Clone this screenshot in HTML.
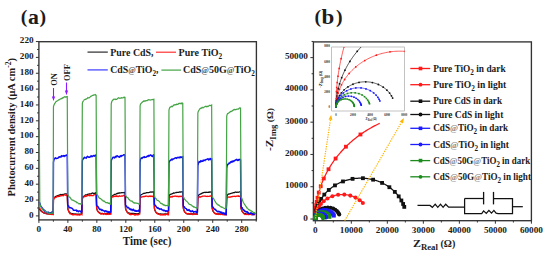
<!DOCTYPE html>
<html><head><meta charset="utf-8"><style>
html,body{margin:0;padding:0;background:#fff;}
svg{display:block;}
text{font-family:"Liberation Serif", serif;fill:#1c1c1c;}
.b{font-weight:bold;}
</style></head><body>
<svg width="550" height="259" viewBox="0 0 550 259">
<rect width="550" height="259" fill="#fff"/>
<rect x="38.9" y="41.7" width="217.5" height="178.2" fill="none" stroke="#333" stroke-width="1.35"/>
<line x1="35.9" y1="215.9" x2="38.9" y2="215.9" stroke="#333" stroke-width="1"/>
<text x="33.6" y="217.7" text-anchor="end" font-size="9.2" class="b">0</text>
<line x1="37.1" y1="207.97" x2="38.9" y2="207.97" stroke="#333" stroke-width="1"/>
<line x1="35.9" y1="200.05" x2="38.9" y2="200.05" stroke="#333" stroke-width="1"/>
<text x="33.6" y="201.85" text-anchor="end" font-size="9.2" class="b">20</text>
<line x1="37.1" y1="192.12" x2="38.9" y2="192.12" stroke="#333" stroke-width="1"/>
<line x1="35.9" y1="184.2" x2="38.9" y2="184.2" stroke="#333" stroke-width="1"/>
<text x="33.6" y="186" text-anchor="end" font-size="9.2" class="b">40</text>
<line x1="37.1" y1="176.28" x2="38.9" y2="176.28" stroke="#333" stroke-width="1"/>
<line x1="35.9" y1="168.35" x2="38.9" y2="168.35" stroke="#333" stroke-width="1"/>
<text x="33.6" y="170.15" text-anchor="end" font-size="9.2" class="b">60</text>
<line x1="37.1" y1="160.43" x2="38.9" y2="160.43" stroke="#333" stroke-width="1"/>
<line x1="35.9" y1="152.5" x2="38.9" y2="152.5" stroke="#333" stroke-width="1"/>
<text x="33.6" y="154.3" text-anchor="end" font-size="9.2" class="b">80</text>
<line x1="37.1" y1="144.57" x2="38.9" y2="144.57" stroke="#333" stroke-width="1"/>
<line x1="35.9" y1="136.65" x2="38.9" y2="136.65" stroke="#333" stroke-width="1"/>
<text x="33.6" y="138.45" text-anchor="end" font-size="9.2" class="b">100</text>
<line x1="37.1" y1="128.73" x2="38.9" y2="128.73" stroke="#333" stroke-width="1"/>
<line x1="35.9" y1="120.8" x2="38.9" y2="120.8" stroke="#333" stroke-width="1"/>
<text x="33.6" y="122.6" text-anchor="end" font-size="9.2" class="b">120</text>
<line x1="37.1" y1="112.88" x2="38.9" y2="112.88" stroke="#333" stroke-width="1"/>
<line x1="35.9" y1="104.95" x2="38.9" y2="104.95" stroke="#333" stroke-width="1"/>
<text x="33.6" y="106.75" text-anchor="end" font-size="9.2" class="b">140</text>
<line x1="37.1" y1="97.03" x2="38.9" y2="97.03" stroke="#333" stroke-width="1"/>
<line x1="35.9" y1="89.1" x2="38.9" y2="89.1" stroke="#333" stroke-width="1"/>
<text x="33.6" y="90.9" text-anchor="end" font-size="9.2" class="b">160</text>
<line x1="37.1" y1="81.18" x2="38.9" y2="81.18" stroke="#333" stroke-width="1"/>
<line x1="35.9" y1="73.25" x2="38.9" y2="73.25" stroke="#333" stroke-width="1"/>
<text x="33.6" y="75.05" text-anchor="end" font-size="9.2" class="b">180</text>
<line x1="37.1" y1="65.33" x2="38.9" y2="65.33" stroke="#333" stroke-width="1"/>
<line x1="35.9" y1="57.4" x2="38.9" y2="57.4" stroke="#333" stroke-width="1"/>
<text x="33.6" y="59.2" text-anchor="end" font-size="9.2" class="b">200</text>
<line x1="37.1" y1="49.48" x2="38.9" y2="49.48" stroke="#333" stroke-width="1"/>
<line x1="35.9" y1="41.55" x2="38.9" y2="41.55" stroke="#333" stroke-width="1"/>
<text x="33.6" y="43.35" text-anchor="end" font-size="9.2" class="b">220</text>
<line x1="38.9" y1="219.9" x2="38.9" y2="222.9" stroke="#333" stroke-width="1"/>
<text x="38.9" y="232.1" text-anchor="middle" font-size="9.2" class="b">0</text>
<line x1="53.39" y1="219.9" x2="53.39" y2="221.70000000000002" stroke="#333" stroke-width="1"/>
<line x1="67.87" y1="219.9" x2="67.87" y2="222.9" stroke="#333" stroke-width="1"/>
<text x="67.87" y="232.1" text-anchor="middle" font-size="9.2" class="b">40</text>
<line x1="82.36" y1="219.9" x2="82.36" y2="221.70000000000002" stroke="#333" stroke-width="1"/>
<line x1="96.84" y1="219.9" x2="96.84" y2="222.9" stroke="#333" stroke-width="1"/>
<text x="96.84" y="232.1" text-anchor="middle" font-size="9.2" class="b">80</text>
<line x1="111.33" y1="219.9" x2="111.33" y2="221.70000000000002" stroke="#333" stroke-width="1"/>
<line x1="125.82" y1="219.9" x2="125.82" y2="222.9" stroke="#333" stroke-width="1"/>
<text x="125.82" y="232.1" text-anchor="middle" font-size="9.2" class="b">120</text>
<line x1="140.3" y1="219.9" x2="140.3" y2="221.70000000000002" stroke="#333" stroke-width="1"/>
<line x1="154.79" y1="219.9" x2="154.79" y2="222.9" stroke="#333" stroke-width="1"/>
<text x="154.79" y="232.1" text-anchor="middle" font-size="9.2" class="b">160</text>
<line x1="169.27" y1="219.9" x2="169.27" y2="221.70000000000002" stroke="#333" stroke-width="1"/>
<line x1="183.76" y1="219.9" x2="183.76" y2="222.9" stroke="#333" stroke-width="1"/>
<text x="183.76" y="232.1" text-anchor="middle" font-size="9.2" class="b">200</text>
<line x1="198.25" y1="219.9" x2="198.25" y2="221.70000000000002" stroke="#333" stroke-width="1"/>
<line x1="212.73" y1="219.9" x2="212.73" y2="222.9" stroke="#333" stroke-width="1"/>
<text x="212.73" y="232.1" text-anchor="middle" font-size="9.2" class="b">240</text>
<line x1="227.22" y1="219.9" x2="227.22" y2="221.70000000000002" stroke="#333" stroke-width="1"/>
<line x1="241.7" y1="219.9" x2="241.7" y2="222.9" stroke="#333" stroke-width="1"/>
<text x="241.7" y="232.1" text-anchor="middle" font-size="9.2" class="b">280</text>
<line x1="256.19" y1="219.9" x2="256.19" y2="221.70000000000002" stroke="#333" stroke-width="1"/>
<path d="M39.3,208.71 L39.81,209.48 L40.33,210.09 L40.84,210.77 L41.36,211.33 L41.87,211.64 L42.39,212.1 L42.9,212.42 L43.42,212.55 L43.93,213.02 L44.45,213.09 L44.96,213.15 L45.48,213.21 L45.99,213.5 L46.51,213.8 L47.02,213.97 L47.54,213.95 L48.05,213.9 L48.57,213.79 L49.08,214 L49.6,214.1 L50.11,214.09 L50.63,214.21 L51.14,214.21 L51.66,214.42 L52.17,214.46 L52.69,214.31 L53.2,214.48 L53.45,200.08 L53.84,198.29 L54.24,197.77 L54.63,197.34 L55.03,196.91 L55.42,196.84 L55.82,196.41 L56.21,196.28 L56.6,196.28 L57,195.9 L57.39,195.62 L57.79,195.56 L58.18,195.44 L58.58,195.36 L58.97,195.34 L59.36,195.03 L59.76,194.86 L60.15,194.72 L60.55,194.51 L60.94,194.68 L61.34,194.72 L61.73,194.69 L62.12,194.37 L62.52,194.49 L62.91,194.5 L63.31,194.38 L63.7,194.4 L64.1,194.28 L64.49,194.11 L64.88,193.94 L65.28,193.88 L65.67,193.76 L66.07,193.79 L66.46,193.97 L66.86,194.05 L67.25,194.14 L67.75,208.53 L68.14,209.7 L68.53,210.74 L68.92,211.48 L69.31,212.2 L69.71,212.62 L70.1,212.84 L70.49,213.18 L70.88,213.56 L71.27,213.52 L71.66,213.79 L72.05,213.62 L72.44,213.63 L72.83,213.64 L73.23,213.86 L73.62,214.08 L74.01,214.13 L74.4,214 L74.79,214.15 L75.18,214.02 L75.57,213.91 L75.96,214.11 L76.35,214.12 L76.75,214.15 L77.14,214.16 L77.53,214.29 L77.92,214.17 L78.31,214.24 L78.7,214.23 L79.09,214.28 L79.48,214.15 L79.87,214.18 L80.27,214.14 L80.66,214.01 L81.05,213.9 L81.44,213.99 L81.83,213.83 L82.33,199.42 L82.72,197.41 L83.12,196.75 L83.51,196.34 L83.91,196.31 L84.3,195.97 L84.7,195.58 L85.09,195.22 L85.48,194.94 L85.88,194.95 L86.27,194.87 L86.67,194.79 L87.06,194.7 L87.46,194.33 L87.85,194.27 L88.24,194.1 L88.64,194.14 L89.03,194.12 L89.43,194.11 L89.82,193.75 L90.22,193.82 L90.61,193.86 L91,193.87 L91.4,193.52 L91.79,193.33 L92.19,193.16 L92.58,193.01 L92.98,193.23 L93.37,193.33 L93.76,193.31 L94.16,193.36 L94.55,193.3 L94.95,193.12 L95.34,192.93 L95.74,192.8 L96.13,192.98 L96.63,208.14 L97.02,209.39 L97.41,210.38 L97.8,210.98 L98.19,211.55 L98.59,211.99 L98.98,212.5 L99.37,212.72 L99.76,212.88 L100.15,213.26 L100.54,213.33 L100.93,213.52 L101.32,213.56 L101.71,213.36 L102.11,213.4 L102.5,213.44 L102.89,213.61 L103.28,213.54 L103.67,213.64 L104.06,213.64 L104.45,213.51 L104.84,213.7 L105.23,213.5 L105.63,213.67 L106.02,213.52 L106.41,213.36 L106.8,213.34 L107.19,213.55 L107.58,213.77 L107.97,213.51 L108.36,213.55 L108.75,213.57 L109.15,213.71 L109.54,213.55 L109.93,213.57 L110.32,213.53 L110.71,213.7 L111.21,198.52 L111.6,196.89 L112,196.26 L112.39,195.8 L112.79,195.62 L113.18,195.34 L113.58,194.93 L113.97,194.81 L114.36,194.44 L114.76,194.44 L115.15,194.33 L115.55,194.25 L115.94,194.09 L116.34,193.83 L116.73,193.65 L117.12,193.5 L117.52,193.57 L117.91,193.25 L118.31,193.35 L118.7,193.04 L119.1,192.9 L119.49,192.81 L119.88,192.99 L120.28,192.92 L120.67,192.81 L121.07,192.93 L121.46,192.72 L121.86,192.68 L122.25,192.66 L122.64,192.73 L123.04,192.76 L123.43,192.73 L123.83,192.58 L124.22,192.47 L124.62,192.33 L125.01,192.51 L125.51,208.37 L125.9,209.69 L126.29,210.47 L126.68,211.19 L127.07,211.88 L127.47,212.31 L127.86,212.46 L128.25,212.73 L128.64,213.11 L129.03,213.11 L129.42,213.11 L129.81,213.17 L130.2,213.39 L130.59,213.58 L130.99,213.43 L131.38,213.35 L131.77,213.34 L132.16,213.37 L132.55,213.47 L132.94,213.39 L133.33,213.4 L133.72,213.36 L134.11,213.65 L134.51,213.73 L134.9,213.52 L135.29,213.74 L135.68,213.53 L136.07,213.52 L136.46,213.75 L136.85,213.81 L137.24,213.83 L137.63,213.72 L138.03,213.56 L138.42,213.63 L138.81,213.47 L139.2,213.41 L139.59,213.45 L140.09,196.86 L140.48,195.18 L140.88,194.96 L141.27,194.77 L141.67,194.49 L142.06,194.31 L142.46,194.05 L142.85,193.71 L143.24,193.63 L143.64,193.44 L144.03,193.42 L144.43,193.42 L144.82,193.19 L145.22,193.07 L145.61,193.04 L146,192.85 L146.4,192.63 L146.79,192.67 L147.19,192.73 L147.58,192.7 L147.98,192.63 L148.37,192.63 L148.76,192.54 L149.16,192.46 L149.55,192.32 L149.95,192.16 L150.34,192.19 L150.74,191.97 L151.13,191.96 L151.52,192.09 L151.92,192.14 L152.31,192.12 L152.71,191.95 L153.1,191.91 L153.5,191.89 L153.89,191.94 L154.39,208.32 L154.78,209.74 L155.17,210.92 L155.56,211.49 L155.95,212.15 L156.35,212.69 L156.74,212.93 L157.13,213.18 L157.52,213.56 L157.91,213.45 L158.3,213.61 L158.69,213.57 L159.08,213.81 L159.47,214.03 L159.87,214 L160.26,213.83 L160.65,213.91 L161.04,213.96 L161.43,214.06 L161.82,214.04 L162.21,214.08 L162.6,214.18 L162.99,214.12 L163.39,214.04 L163.78,214.2 L164.17,214.01 L164.56,214.08 L164.95,214.01 L165.34,214.12 L165.73,213.92 L166.12,214.15 L166.51,214.04 L166.91,213.85 L167.3,213.82 L167.69,213.86 L168.08,213.73 L168.47,213.81 L168.97,196.99 L169.36,195.38 L169.76,194.91 L170.15,194.56 L170.55,194.26 L170.94,194.21 L171.34,194.19 L171.73,193.94 L172.12,193.61 L172.52,193.6 L172.91,193.37 L173.31,193.12 L173.7,192.89 L174.1,192.97 L174.49,193 L174.88,192.91 L175.28,192.76 L175.67,192.68 L176.07,192.48 L176.46,192.62 L176.86,192.45 L177.25,192.44 L177.64,192.48 L178.04,192.49 L178.43,192.34 L178.83,192.17 L179.22,192.16 L179.62,191.97 L180.01,192.13 L180.4,192.02 L180.8,192.15 L181.19,191.98 L181.59,191.92 L181.98,191.82 L182.38,191.83 L182.77,191.73 L183.27,208.03 L183.66,209.59 L184.05,210.56 L184.44,211.3 L184.83,211.89 L185.23,212.42 L185.62,212.79 L186.01,213.15 L186.4,213.42 L186.79,213.49 L187.18,213.79 L187.57,213.96 L187.96,213.76 L188.35,213.95 L188.75,214.11 L189.14,214.16 L189.53,213.94 L189.92,214.09 L190.31,214.1 L190.7,213.87 L191.09,213.72 L191.48,214.02 L191.87,214.07 L192.27,213.95 L192.66,213.81 L193.05,213.75 L193.44,213.75 L193.83,213.96 L194.22,213.92 L194.61,213.82 L195,214.06 L195.39,214.16 L195.79,213.97 L196.18,214.14 L196.57,214.13 L196.96,214.2 L197.35,214.19 L197.85,197.41 L198.24,195.67 L198.64,195.27 L199.03,194.75 L199.43,194.56 L199.82,194.31 L200.22,194.17 L200.61,193.9 L201,193.85 L201.4,193.64 L201.79,193.34 L202.19,193.11 L202.58,192.89 L202.98,192.86 L203.37,192.63 L203.76,192.62 L204.16,192.46 L204.55,192.47 L204.95,192.46 L205.34,192.44 L205.74,192.54 L206.13,192.24 L206.52,192.37 L206.92,192.29 L207.31,192.26 L207.71,192.27 L208.1,192.33 L208.5,192.17 L208.89,192.08 L209.28,192.24 L209.68,191.97 L210.07,192.02 L210.47,192.04 L210.86,191.81 L211.26,191.89 L211.65,191.97 L212.15,208.55 L212.54,209.74 L212.93,210.93 L213.32,211.63 L213.71,212.16 L214.11,212.75 L214.5,212.83 L214.89,213.2 L215.28,213.44 L215.67,213.5 L216.06,213.77 L216.45,213.75 L216.84,213.8 L217.23,213.86 L217.63,214 L218.02,213.87 L218.41,213.88 L218.8,213.89 L219.19,213.95 L219.58,214.1 L219.97,213.98 L220.36,214.12 L220.75,214.03 L221.15,214.02 L221.54,213.93 L221.93,213.96 L222.32,214.17 L222.71,214.17 L223.1,214.22 L223.49,214.07 L223.88,213.97 L224.27,213.91 L224.67,213.98 L225.06,214.05 L225.45,214.15 L225.84,213.91 L226.23,214.04 L226.73,197.32 L227.12,195.52 L227.52,194.87 L227.91,194.55 L228.31,194.17 L228.7,193.93 L229.1,194.01 L229.49,193.87 L229.88,193.75 L230.28,193.67 L230.67,193.62 L231.07,193.43 L231.46,193.27 L231.86,193.14 L232.25,193.05 L232.64,192.93 L233.04,192.86 L233.43,192.6 L233.83,192.6 L234.22,192.5 L234.62,192.54 L235.01,192.27 L235.4,192.13 L235.8,191.97 L236.19,192.15 L236.59,192.31 L236.98,192.28 L237.38,192.14 L237.77,192.23 L238.16,192.25 L238.56,192.17 L238.95,191.99 L239.35,191.89 L239.74,191.87 L240.14,191.82 L240.53,191.82 L241.03,208.34 L241.43,209.87 L241.82,210.65 L242.22,211.49 L242.61,211.91 L243.01,212.29 L243.4,212.87 L243.8,213.18 L244.19,213.54 L244.59,213.61 L244.98,213.5 L245.38,213.6 L245.77,213.75 L246.17,214 L246.56,214.17 L246.96,214.08 L247.35,214 L247.75,213.83 L248.14,213.95 L248.54,213.86 L248.93,213.77 L249.33,213.67 L249.72,213.61 L250.12,213.84 L250.51,213.76 L250.91,214.04 L251.3,213.87 L251.69,214.07 L252.09,213.9 L252.49,213.75 L252.88,213.94 L253.28,213.87 L253.67,214.02 L254.06,213.89 L254.46,213.76 L254.85,213.97 L255.25,214.07" fill="none" stroke="#111" stroke-width="1.25"/>
<path d="M39.3,207.53 L39.81,208.6 L40.33,209.05 L40.84,209.92 L41.36,210.7 L41.87,211.16 L42.39,211.92 L42.9,212.02 L43.42,212.69 L43.93,213.01 L44.45,212.78 L44.96,212.72 L45.48,213.19 L45.99,213.64 L46.51,213.44 L47.02,213.52 L47.54,213.89 L48.05,213.75 L48.57,214.17 L49.08,214.19 L49.6,213.92 L50.11,213.99 L50.63,214.19 L51.14,214.22 L51.66,214.42 L52.17,214.18 L52.69,214.49 L53.2,214.39 L53.45,200.23 L53.84,198.55 L54.24,198.02 L54.63,197.66 L55.03,197.64 L55.42,197.67 L55.82,197.51 L56.21,197.19 L56.6,196.75 L57,196.27 L57.39,196.58 L57.79,196.52 L58.18,196.54 L58.58,196.16 L58.97,196.09 L59.36,196.28 L59.76,196.26 L60.15,196.06 L60.55,195.71 L60.94,195.56 L61.34,195.77 L61.73,195.52 L62.12,195.57 L62.52,195.52 L62.91,195.68 L63.31,195.71 L63.7,195.34 L64.1,194.91 L64.49,194.83 L64.88,194.88 L65.28,195.02 L65.67,195.25 L66.07,195.43 L66.46,194.95 L66.86,195.2 L67.25,195.33 L67.75,208.25 L68.14,209.75 L68.53,210.72 L68.92,211.91 L69.31,212.74 L69.71,213.28 L70.1,213.85 L70.49,213.87 L70.88,213.75 L71.27,214.05 L71.66,214.43 L72.05,214.26 L72.44,214.56 L72.83,214.89 L73.23,214.6 L73.62,214.7 L74.01,214.81 L74.4,214.74 L74.79,214.52 L75.18,214.42 L75.57,214.71 L75.96,214.92 L76.35,214.81 L76.75,214.48 L77.14,214.79 L77.53,214.95 L77.92,214.67 L78.31,214.75 L78.7,215.02 L79.09,215.17 L79.48,215.01 L79.87,214.88 L80.27,214.88 L80.66,214.6 L81.05,214.43 L81.44,214.33 L81.83,214.63 L82.33,199.21 L82.72,197.64 L83.12,197.24 L83.51,197.07 L83.91,196.66 L84.3,196.28 L84.7,196.67 L85.09,196.41 L85.48,196.03 L85.88,196.12 L86.27,196.25 L86.67,195.85 L87.06,195.88 L87.46,195.7 L87.85,195.68 L88.24,195.3 L88.64,195.05 L89.03,195.56 L89.43,195.75 L89.82,195.59 L90.22,195.53 L90.61,195.26 L91,195.45 L91.4,195.3 L91.79,195.57 L92.19,195.59 L92.58,195.63 L92.98,195.75 L93.37,195.31 L93.76,194.9 L94.16,194.75 L94.55,194.64 L94.95,194.51 L95.34,194.39 L95.74,194.68 L96.13,195.06 L96.63,207.68 L97.02,209.49 L97.41,210.8 L97.8,211.17 L98.19,211.92 L98.59,212.33 L98.98,212.47 L99.37,213.2 L99.76,213.2 L100.15,213.45 L100.54,213.68 L100.93,214.06 L101.32,214.11 L101.71,213.95 L102.11,213.91 L102.5,213.69 L102.89,214.13 L103.28,214.41 L103.67,214.05 L104.06,213.7 L104.45,213.65 L104.84,213.69 L105.23,214.1 L105.63,214.34 L106.02,214.44 L106.41,213.95 L106.8,214.18 L107.19,214.26 L107.58,214.26 L107.97,214.5 L108.36,213.99 L108.75,213.75 L109.15,214.03 L109.54,214.33 L109.93,214.33 L110.32,214.06 L110.71,214.11 L111.21,199.6 L111.6,197.62 L112,197.26 L112.39,197.02 L112.79,196.74 L113.18,196.78 L113.58,196.55 L113.97,196.42 L114.36,196.24 L114.76,196.48 L115.15,196.13 L115.55,196.39 L115.94,196.16 L116.34,195.89 L116.73,196.33 L117.12,196.08 L117.52,196.41 L117.91,196.55 L118.31,196.64 L118.7,196.15 L119.1,196.06 L119.49,195.75 L119.88,196.14 L120.28,196.3 L120.67,196.24 L121.07,196.08 L121.46,195.89 L121.86,196.11 L122.25,195.99 L122.64,196.03 L123.04,195.7 L123.43,195.55 L123.83,195.35 L124.22,195.68 L124.62,195.76 L125.01,195.52 L125.51,207.86 L125.9,209.27 L126.29,210.48 L126.68,211.22 L127.07,211.91 L127.47,212.83 L127.86,213.12 L128.25,213.25 L128.64,213.6 L129.03,213.73 L129.42,214.25 L129.81,214.03 L130.2,214.52 L130.59,214.19 L130.99,214.58 L131.38,214.67 L131.77,214.41 L132.16,214.44 L132.55,214.33 L132.94,214.25 L133.33,214.16 L133.72,214.22 L134.11,214.7 L134.51,214.99 L134.9,215.12 L135.29,214.61 L135.68,214.45 L136.07,214.77 L136.46,214.38 L136.85,214.61 L137.24,214.45 L137.63,214.83 L138.03,214.39 L138.42,214.67 L138.81,214.52 L139.2,214.29 L139.59,214.05 L140.09,198.89 L140.48,197.4 L140.88,196.96 L141.27,196.92 L141.67,197.2 L142.06,196.86 L142.46,196.88 L142.85,196.56 L143.24,196.39 L143.64,196.68 L144.03,196.79 L144.43,196.48 L144.82,196.2 L145.22,196.03 L145.61,196.28 L146,196.34 L146.4,196.21 L146.79,196.07 L147.19,196.27 L147.58,196.45 L147.98,196.62 L148.37,196.55 L148.76,196.24 L149.16,195.96 L149.55,196.25 L149.95,196.19 L150.34,196.37 L150.74,196.01 L151.13,196.31 L151.52,196.16 L151.92,196.42 L152.31,196.59 L152.71,196.43 L153.1,196 L153.5,196.36 L153.89,196.28 L154.39,208.1 L154.78,209.45 L155.17,210.48 L155.56,211.75 L155.95,212.34 L156.35,212.67 L156.74,213.11 L157.13,213.6 L157.52,213.53 L157.91,213.89 L158.3,214.09 L158.69,214.28 L159.08,214.13 L159.47,214.48 L159.87,214.76 L160.26,214.98 L160.65,214.73 L161.04,214.86 L161.43,214.71 L161.82,214.88 L162.21,214.51 L162.6,214.85 L162.99,215.11 L163.39,214.95 L163.78,214.87 L164.17,214.83 L164.56,214.81 L164.95,214.44 L165.34,214.88 L165.73,214.63 L166.12,214.44 L166.51,214.28 L166.91,214.28 L167.3,214.68 L167.69,214.37 L168.08,214.23 L168.47,214.57 L168.97,198.66 L169.36,196.91 L169.76,196.96 L170.15,197.01 L170.55,196.98 L170.94,197.07 L171.34,196.67 L171.73,196.95 L172.12,197 L172.52,196.53 L172.91,196.29 L173.31,196.39 L173.7,196.45 L174.1,196.31 L174.49,196.11 L174.88,196.17 L175.28,196.01 L175.67,196.23 L176.07,196.53 L176.46,196.21 L176.86,196.31 L177.25,196.48 L177.64,196.18 L178.04,196.45 L178.43,196.68 L178.83,196.44 L179.22,196.31 L179.62,196.52 L180.01,196.42 L180.4,196.27 L180.8,196.56 L181.19,196.61 L181.59,196.34 L181.98,196.1 L182.38,196.02 L182.77,196.04 L183.27,207.93 L183.66,209.54 L184.05,210.83 L184.44,211.72 L184.83,212.42 L185.23,212.39 L185.62,212.78 L186.01,213.39 L186.4,213.79 L186.79,213.58 L187.18,213.61 L187.57,213.79 L187.96,213.73 L188.35,213.83 L188.75,213.57 L189.14,213.68 L189.53,213.8 L189.92,213.53 L190.31,213.46 L190.7,214 L191.09,214.19 L191.48,214.42 L191.87,214.35 L192.27,214.43 L192.66,214.53 L193.05,214.59 L193.44,214.03 L193.83,214.12 L194.22,213.91 L194.61,214.08 L195,213.89 L195.39,213.97 L195.79,214.28 L196.18,214.26 L196.57,213.99 L196.96,214.01 L197.35,213.97 L197.85,199.26 L198.24,197.45 L198.64,197.08 L199.03,197.13 L199.43,196.77 L199.82,196.87 L200.22,197.15 L200.61,196.99 L201,196.7 L201.4,196.65 L201.79,196.65 L202.19,196.37 L202.58,196.17 L202.98,196.04 L203.37,196.06 L203.76,196.15 L204.16,196.1 L204.55,196.04 L204.95,195.88 L205.34,196.1 L205.74,196.43 L206.13,196.46 L206.52,196.44 L206.92,196.49 L207.31,196.19 L207.71,196.37 L208.1,196.29 L208.5,196.31 L208.89,196.36 L209.28,196.28 L209.68,196.12 L210.07,195.98 L210.47,195.87 L210.86,196.01 L211.26,196 L211.65,196.14 L212.15,207.37 L212.54,208.99 L212.93,210.58 L213.32,211.29 L213.71,212.09 L214.11,212.64 L214.5,212.92 L214.89,213.64 L215.28,213.64 L215.67,214.01 L216.06,213.83 L216.45,213.69 L216.84,214.18 L217.23,214.19 L217.63,213.94 L218.02,214.02 L218.41,214.12 L218.8,214.38 L219.19,214.11 L219.58,214.03 L219.97,214.5 L220.36,214.62 L220.75,214.29 L221.15,214.22 L221.54,214.19 L221.93,214.4 L222.32,214.48 L222.71,214.7 L223.1,214.81 L223.49,214.66 L223.88,214.73 L224.27,214.77 L224.67,214.81 L225.06,214.63 L225.45,214.74 L225.84,214.75 L226.23,214.91 L226.73,199.01 L227.12,197.71 L227.52,197.02 L227.91,197.18 L228.31,197.13 L228.7,197.01 L229.1,197.24 L229.49,197.09 L229.88,196.87 L230.28,196.97 L230.67,197.08 L231.07,196.95 L231.46,196.69 L231.86,196.58 L232.25,196.5 L232.64,196.63 L233.04,196.4 L233.43,196.32 L233.83,196.37 L234.22,196.28 L234.62,196.18 L235.01,196.43 L235.4,196.62 L235.8,196.49 L236.19,196.36 L236.59,196.1 L236.98,196.02 L237.38,195.86 L237.77,196.06 L238.16,196.19 L238.56,195.91 L238.95,196.32 L239.35,196.15 L239.74,196.41 L240.14,196.56 L240.53,196.73 L241.03,207.86 L241.43,209.35 L241.82,210.84 L242.22,211.3 L242.61,211.75 L243.01,212.5 L243.4,212.98 L243.8,213.64 L244.19,213.98 L244.59,214.06 L244.98,214.45 L245.38,214.38 L245.77,214.35 L246.17,214.46 L246.56,214.33 L246.96,214.24 L247.35,214.35 L247.75,214.26 L248.14,214.62 L248.54,214.65 L248.93,214.57 L249.33,214.22 L249.72,214.2 L250.12,214.21 L250.51,214.33 L250.91,214.41 L251.3,214.68 L251.69,214.89 L252.09,214.69 L252.49,214.53 L252.88,214.57 L253.28,214.85 L253.67,214.57 L254.06,214.52 L254.46,214.7 L254.85,214.35 L255.25,214.25" fill="none" stroke="#ff0a0a" stroke-width="1.3"/>
<path d="M39.3,202.01 L39.81,203.14 L40.33,204.75 L40.84,206 L41.36,206.87 L41.87,207.47 L42.39,208.26 L42.9,208.89 L43.42,210 L43.93,209.88 L44.45,210.76 L44.96,211.48 L45.48,211.21 L45.99,212.01 L46.51,212.32 L47.02,212.77 L47.54,212.41 L48.05,212.33 L48.57,212.34 L49.08,213.05 L49.6,213.05 L50.11,212.82 L50.63,212.78 L51.14,212.6 L51.66,212.26 L52.17,212.12 L52.69,212.86 L53.2,212.71 L53.45,162.44 L53.84,160.26 L54.24,159.08 L54.63,158.68 L55.03,158.06 L55.42,157.86 L55.82,158.33 L56.21,158.49 L56.6,158.46 L57,158.19 L57.39,158.29 L57.79,158.34 L58.18,157.89 L58.58,157.77 L58.97,156.91 L59.36,157.11 L59.76,156.88 L60.15,157.04 L60.55,156.98 L60.94,156.51 L61.34,155.94 L61.73,156.53 L62.12,155.97 L62.52,155.98 L62.91,155.82 L63.31,155.64 L63.7,155.99 L64.1,156.44 L64.49,155.89 L64.88,155.98 L65.28,155.61 L65.67,155.65 L66.07,155.47 L66.46,155.09 L66.86,154.84 L67.25,154.72 L67.75,205.28 L68.14,205.77 L68.53,205.92 L68.92,206.92 L69.31,207.76 L69.71,207.79 L70.1,207.59 L70.49,207.64 L70.88,207.66 L71.27,208.05 L71.66,208.09 L72.05,208.36 L72.44,208.62 L72.83,209.19 L73.23,209.95 L73.62,210.31 L74.01,210.21 L74.4,210.2 L74.79,210.37 L75.18,210.35 L75.57,210.34 L75.96,210.07 L76.35,210.18 L76.75,211.03 L77.14,210.65 L77.53,210.86 L77.92,211.16 L78.31,211.61 L78.7,211.2 L79.09,211.03 L79.48,210.92 L79.87,211.04 L80.27,211.18 L80.66,211.84 L81.05,212.13 L81.44,212.35 L81.83,211.55 L82.33,160.8 L82.72,159.52 L83.12,159.1 L83.51,158.42 L83.91,158.15 L84.3,157.32 L84.7,157.23 L85.09,157.73 L85.48,157.89 L85.88,157.99 L86.27,158.14 L86.67,157.41 L87.06,156.79 L87.46,156.43 L87.85,156.6 L88.24,156.85 L88.64,157.25 L89.03,157.23 L89.43,157.11 L89.82,157.15 L90.22,156.81 L90.61,156.68 L91,156.03 L91.4,156.43 L91.79,156.05 L92.19,156.55 L92.58,156.54 L92.98,156.13 L93.37,155.68 L93.76,155.53 L94.16,155.84 L94.55,156.09 L94.95,155.57 L95.34,155.2 L95.74,155.47 L96.13,155.68 L96.63,205.45 L97.02,205.74 L97.41,206.5 L97.8,206.46 L98.19,206.91 L98.59,207.48 L98.98,208.49 L99.37,208.87 L99.76,209.47 L100.15,209.47 L100.54,209.3 L100.93,209.3 L101.32,210.16 L101.71,210.47 L102.11,210.28 L102.5,209.92 L102.89,210.28 L103.28,210.74 L103.67,210.79 L104.06,210.69 L104.45,211.12 L104.84,211.7 L105.23,211.31 L105.63,210.9 L106.02,211.02 L106.41,211.21 L106.8,211.64 L107.19,211.39 L107.58,211.92 L107.97,212.2 L108.36,212.13 L108.75,211.77 L109.15,212.42 L109.54,212.09 L109.93,212.47 L110.32,212.07 L110.71,211.83 L111.21,161.43 L111.6,159.43 L112,159.08 L112.39,158.4 L112.79,157.66 L113.18,157.23 L113.58,157.15 L113.97,157.34 L114.36,157.73 L114.76,157.04 L115.15,156.86 L115.55,156.52 L115.94,157.12 L116.34,156.53 L116.73,156.05 L117.12,155.73 L117.52,155.88 L117.91,156.5 L118.31,156.82 L118.7,156.82 L119.1,157.09 L119.49,157.15 L119.88,156.5 L120.28,155.93 L120.67,156.39 L121.07,156.43 L121.46,155.65 L121.86,155.86 L122.25,155.65 L122.64,155.49 L123.04,155.34 L123.43,155.05 L123.83,154.67 L124.22,154.74 L124.62,154.84 L125.01,155.55 L125.51,204.89 L125.9,206.01 L126.29,206.01 L126.68,206.31 L127.07,207.14 L127.47,207.76 L127.86,207.81 L128.25,207.53 L128.64,207.92 L129.03,208.14 L129.42,208.95 L129.81,208.72 L130.2,208.84 L130.59,209.57 L130.99,209.11 L131.38,209.31 L131.77,209.92 L132.16,210.29 L132.55,209.76 L132.94,209.47 L133.33,209.37 L133.72,210.29 L134.11,210.14 L134.51,210.63 L134.9,211.11 L135.29,210.81 L135.68,210.58 L136.07,211.22 L136.46,211.25 L136.85,210.9 L137.24,211.21 L137.63,210.97 L138.03,210.79 L138.42,210.4 L138.81,211.01 L139.2,211.56 L139.59,211.6 L140.09,162.07 L140.48,159.51 L140.88,158.33 L141.27,157.94 L141.67,158.22 L142.06,158.37 L142.46,157.8 L142.85,157.27 L143.24,157.12 L143.64,157.06 L144.03,157.46 L144.43,156.85 L144.82,157.13 L145.22,157.19 L145.61,157.29 L146,157.26 L146.4,157.03 L146.79,156.56 L147.19,156.24 L147.58,156.06 L147.98,156.4 L148.37,155.8 L148.76,155.54 L149.16,155.98 L149.55,155.66 L149.95,155.24 L150.34,154.94 L150.74,155.31 L151.13,155.26 L151.52,155.93 L151.92,156.21 L152.31,156.47 L152.71,155.81 L153.1,155.21 L153.5,154.84 L153.89,155.04 L154.39,204.47 L154.78,204.93 L155.17,205.13 L155.56,205.62 L155.95,206.27 L156.35,206.86 L156.74,207.42 L157.13,207.97 L157.52,208.21 L157.91,207.86 L158.3,208.52 L158.69,208.41 L159.08,208.72 L159.47,208.76 L159.87,209.26 L160.26,209.02 L160.65,208.99 L161.04,209.02 L161.43,208.99 L161.82,209.82 L162.21,210.02 L162.6,209.91 L162.99,209.95 L163.39,210.66 L163.78,210.59 L164.17,210.27 L164.56,210.74 L164.95,210.88 L165.34,211.35 L165.73,210.68 L166.12,210.71 L166.51,211.12 L166.91,211.41 L167.3,211.68 L167.69,210.89 L168.08,210.71 L168.47,210.43 L168.97,162.66 L169.36,161.7 L169.76,160.83 L170.15,160.72 L170.55,160.04 L170.94,160.16 L171.34,159.73 L171.73,159.24 L172.12,159.47 L172.52,159.76 L172.91,158.97 L173.31,159 L173.7,159.01 L174.1,158.54 L174.49,158.39 L174.88,158.02 L175.28,157.84 L175.67,157.75 L176.07,158.05 L176.46,158.26 L176.86,157.87 L177.25,157.4 L177.64,157.44 L178.04,157.82 L178.43,157.49 L178.83,157.41 L179.22,157.22 L179.62,157.73 L180.01,157.75 L180.4,157.21 L180.8,156.9 L181.19,157.03 L181.59,157.26 L181.98,157.47 L182.38,156.98 L182.77,156.76 L183.27,205.86 L183.66,206.31 L184.05,206.61 L184.44,206.96 L184.83,208.01 L185.23,208.07 L185.62,208.49 L186.01,208.63 L186.4,208.87 L186.79,209.61 L187.18,210.28 L187.57,210.06 L187.96,209.82 L188.35,210.33 L188.75,210.12 L189.14,209.84 L189.53,210.71 L189.92,210.75 L190.31,211.26 L190.7,211.16 L191.09,211.65 L191.48,211.53 L191.87,211.16 L192.27,210.8 L192.66,211.21 L193.05,211.58 L193.44,212.12 L193.83,211.57 L194.22,211.84 L194.61,211.75 L195,211.86 L195.39,211.55 L195.79,211.53 L196.18,211.8 L196.57,212.41 L196.96,211.9 L197.35,212.02 L197.85,165.56 L198.24,164.2 L198.64,162.67 L199.03,161.7 L199.43,162.01 L199.82,162.21 L200.22,161.74 L200.61,160.95 L201,161.39 L201.4,161.02 L201.79,161.32 L202.19,161.15 L202.58,161.23 L202.98,160.51 L203.37,160.73 L203.76,160.21 L204.16,160.06 L204.55,160.42 L204.95,160.59 L205.34,159.95 L205.74,159.57 L206.13,159.52 L206.52,159.58 L206.92,159.45 L207.31,159.06 L207.71,158.93 L208.1,159.36 L208.5,159.78 L208.89,159.07 L209.28,159.19 L209.68,159.46 L210.07,158.81 L210.47,159.28 L210.86,158.75 L211.26,158.94 L211.65,158.98 L212.15,206.25 L212.54,206.59 L212.93,207.11 L213.32,207.79 L213.71,208.19 L214.11,208.84 L214.5,209.15 L214.89,209.45 L215.28,209.3 L215.67,209.99 L216.06,210.36 L216.45,210.4 L216.84,211.1 L217.23,211.62 L217.63,211.66 L218.02,211.44 L218.41,211.71 L218.8,211.52 L219.19,211.5 L219.58,211.86 L219.97,211.76 L220.36,212.13 L220.75,212.47 L221.15,212.2 L221.54,212.72 L221.93,212.46 L222.32,213.05 L222.71,213.49 L223.1,213.48 L223.49,213 L223.88,213.22 L224.27,213.24 L224.67,213.91 L225.06,213.42 L225.45,213.95 L225.84,214.43 L226.23,214.44 L226.73,168.05 L227.12,165.57 L227.52,165.04 L227.91,164.19 L228.31,164.15 L228.7,164.03 L229.1,163.07 L229.49,163.11 L229.88,163.23 L230.28,162.28 L230.67,161.97 L231.07,162.16 L231.46,161.56 L231.86,161.96 L232.25,161.45 L232.64,161.69 L233.04,161.04 L233.43,161 L233.83,161.38 L234.22,160.79 L234.62,160.44 L235.01,160.46 L235.4,160.22 L235.8,159.73 L236.19,159.55 L236.59,159.38 L236.98,160.1 L237.38,160.21 L237.77,160.48 L238.16,159.81 L238.56,160.05 L238.95,159.43 L239.35,159.48 L239.74,159.6 L240.14,159.34 L240.53,159.72 L241.03,206.41 L241.43,207.05 L241.82,207.98 L242.22,207.88 L242.61,208.98 L243.01,209.41 L243.4,209.57 L243.8,210.25 L244.19,210.21 L244.59,211.11 L244.98,211.3 L245.38,211.29 L245.77,211.83 L246.17,211.88 L246.56,211.71 L246.96,212.31 L247.35,211.97 L247.75,212.69 L248.14,212.56 L248.54,212.96 L248.93,213.63 L249.33,213.65 L249.72,213.79 L250.12,213.52 L250.51,213.06 L250.91,212.86 L251.3,212.9 L251.69,213.46 L252.09,213.63 L252.49,213.84 L252.88,214.42 L253.28,213.94 L253.67,213.79 L254.06,214.18 L254.46,213.74 L254.85,213.47 L255.25,213.71" fill="none" stroke="#0a0af5" stroke-width="1.45"/>
<path d="M39.3,130.34 L39.81,204.09 L40.33,205.86 L40.84,206.62 L41.36,207.71 L41.87,208.47 L42.39,208.89 L42.9,209.68 L43.42,209.93 L43.93,210.52 L44.45,210.7 L44.96,210.93 L45.48,211.41 L45.99,212.1 L46.51,212.01 L47.02,212.09 L47.54,212.51 L48.05,213.06 L48.57,213.13 L49.08,213.05 L49.6,213.5 L50.11,213.04 L50.63,213.44 L51.14,213.24 L51.66,213.02 L52.17,212.87 L52.69,212.95 L53.2,213.41 L53.45,106.85 L53.84,105.29 L54.24,104.47 L54.63,103.69 L55.03,103.24 L55.42,102.44 L55.82,101.81 L56.21,101.41 L56.6,101.42 L57,101.1 L57.39,100.69 L57.79,100.55 L58.18,100.25 L58.58,99.84 L58.97,99.89 L59.36,99.75 L59.76,99.22 L60.15,99.08 L60.55,98.87 L60.94,98.95 L61.34,98.81 L61.73,98.3 L62.12,98.49 L62.52,97.85 L62.91,97.64 L63.31,97.74 L63.7,97.25 L64.1,97.18 L64.49,96.73 L64.88,96.92 L65.28,97.07 L65.67,96.96 L66.07,97.1 L66.46,96.7 L66.86,96.73 L67.25,96.63 L67.75,194.44 L68.14,194.98 L68.53,195.83 L68.92,196.63 L69.31,196.93 L69.71,197.45 L70.1,197.45 L70.49,198.13 L70.88,198.64 L71.27,199.38 L71.66,199.82 L72.05,199.78 L72.44,199.96 L72.83,200.41 L73.23,200.27 L73.62,200.63 L74.01,200.72 L74.4,200.81 L74.79,200.91 L75.18,201.62 L75.57,201.6 L75.96,201.76 L76.35,202.04 L76.75,202.65 L77.14,202.44 L77.53,202.67 L77.92,202.94 L78.31,203.42 L78.7,203.7 L79.09,203.95 L79.48,203.67 L79.87,203.65 L80.27,203.63 L80.66,204.08 L81.05,204.43 L81.44,204.03 L81.83,203.84 L82.33,103.59 L82.72,101.9 L83.12,101.21 L83.51,100.84 L83.91,100.27 L84.3,99.62 L84.7,99.45 L85.09,99.2 L85.48,99.1 L85.88,99.26 L86.27,99.05 L86.67,98.69 L87.06,98.47 L87.46,98.31 L87.85,97.64 L88.24,97.84 L88.64,97.8 L89.03,97.78 L89.43,97.65 L89.82,97.18 L90.22,96.86 L90.61,96.37 L91,96.45 L91.4,95.99 L91.79,95.68 L92.19,95.56 L92.58,95.41 L92.98,95.42 L93.37,95.16 L93.76,94.93 L94.16,94.88 L94.55,94.77 L94.95,94.89 L95.34,94.66 L95.74,95.18 L96.13,95.25 L96.63,193.96 L97.02,194.49 L97.41,195.09 L97.8,195.67 L98.19,196.01 L98.59,196.97 L98.98,197.82 L99.37,198.07 L99.76,198.38 L100.15,198.39 L100.54,198.54 L100.93,198.94 L101.32,199.24 L101.71,199.97 L102.11,199.98 L102.5,199.98 L102.89,200.81 L103.28,201.05 L103.67,200.97 L104.06,201.32 L104.45,201.19 L104.84,201.58 L105.23,202.23 L105.63,202.59 L106.02,202.73 L106.41,202.52 L106.8,202.53 L107.19,202.42 L107.58,202.89 L107.97,203.01 L108.36,203.33 L108.75,203.19 L109.15,203.06 L109.54,203.49 L109.93,203.91 L110.32,204.09 L110.71,204.19 L111.21,103.76 L111.6,102.26 L112,101.13 L112.39,100.7 L112.79,100.28 L113.18,99.71 L113.58,99.3 L113.97,99.2 L114.36,99.06 L114.76,99.26 L115.15,99.54 L115.55,99.25 L115.94,99.42 L116.34,99.51 L116.73,99.5 L117.12,98.97 L117.52,98.5 L117.91,98.19 L118.31,97.94 L118.7,97.76 L119.1,97.95 L119.49,98.26 L119.88,98.37 L120.28,98.11 L120.67,98.07 L121.07,98.14 L121.46,97.59 L121.86,97.69 L122.25,97.93 L122.64,97.95 L123.04,97.92 L123.43,97.66 L123.83,97.25 L124.22,97.48 L124.62,97.23 L125.01,97.44 L125.51,195.52 L125.9,195.83 L126.29,196.23 L126.68,197.09 L127.07,197.61 L127.47,197.65 L127.86,197.8 L128.25,198.06 L128.64,198.97 L129.03,199.56 L129.42,199.52 L129.81,200.15 L130.2,200.77 L130.59,200.99 L130.99,200.97 L131.38,201.22 L131.77,201.12 L132.16,201.05 L132.55,201.85 L132.94,202.14 L133.33,202.29 L133.72,202.77 L134.11,202.72 L134.51,203.1 L134.9,203.35 L135.29,203.05 L135.68,202.96 L136.07,202.98 L136.46,202.99 L136.85,203.32 L137.24,203.29 L137.63,203.44 L138.03,203.33 L138.42,203.92 L138.81,203.86 L139.2,203.93 L139.59,204.1 L140.09,105.87 L140.48,104.2 L140.88,103.76 L141.27,103.18 L141.67,102.81 L142.06,102.51 L142.46,101.87 L142.85,101.75 L143.24,101.4 L143.64,100.99 L144.03,101.32 L144.43,100.96 L144.82,100.92 L145.22,101.06 L145.61,100.95 L146,100.65 L146.4,100.59 L146.79,100.53 L147.19,100.64 L147.58,100.13 L147.98,100.15 L148.37,99.88 L148.76,99.7 L149.16,99.96 L149.55,99.88 L149.95,99.84 L150.34,99.95 L150.74,100.12 L151.13,99.82 L151.52,99.75 L151.92,99.6 L152.31,99.5 L152.71,99.56 L153.1,99.38 L153.5,99.33 L153.89,99.23 L154.39,196.22 L154.78,196.9 L155.17,197.68 L155.56,198.41 L155.95,198.5 L156.35,198.99 L156.74,199.77 L157.13,200.32 L157.52,200.25 L157.91,200.35 L158.3,200.8 L158.69,200.91 L159.08,201.24 L159.47,201.42 L159.87,202.11 L160.26,202.72 L160.65,203.28 L161.04,203.11 L161.43,203.55 L161.82,203.85 L162.21,203.69 L162.6,204.26 L162.99,204.74 L163.39,204.5 L163.78,205 L164.17,204.91 L164.56,204.98 L164.95,205.48 L165.34,205.7 L165.73,205.34 L166.12,205.38 L166.51,205.52 L166.91,205.49 L167.3,205.4 L167.69,205.47 L168.08,205.87 L168.47,205.58 L168.97,110.09 L169.36,108.6 L169.76,107.51 L170.15,107.11 L170.55,107.05 L170.94,106.84 L171.34,106.28 L171.73,106.59 L172.12,106.55 L172.52,106.59 L172.91,105.85 L173.31,105.47 L173.7,105 L174.1,105.24 L174.49,104.92 L174.88,104.56 L175.28,104.53 L175.67,104.85 L176.07,104.92 L176.46,104.47 L176.86,104.07 L177.25,104.41 L177.64,104.29 L178.04,104.29 L178.43,103.76 L178.83,103.39 L179.22,103.64 L179.62,103.54 L180.01,103.18 L180.4,103.63 L180.8,103.62 L181.19,103.73 L181.59,103.2 L181.98,103.48 L182.38,102.99 L182.77,103.32 L183.27,196.75 L183.66,197.33 L184.05,198.11 L184.44,199.11 L184.83,199.4 L185.23,199.68 L185.62,200.36 L186.01,200.73 L186.4,201.02 L186.79,201.4 L187.18,201.69 L187.57,202.14 L187.96,202.63 L188.35,203.05 L188.75,203.79 L189.14,203.98 L189.53,204.36 L189.92,204.44 L190.31,204.72 L190.7,204.71 L191.09,204.98 L191.48,205.03 L191.87,205.71 L192.27,206.05 L192.66,206.03 L193.05,206.31 L193.44,206.9 L193.83,206.65 L194.22,207.12 L194.61,207.15 L195,207.26 L195.39,207.64 L195.79,207.56 L196.18,207.64 L196.57,207.87 L196.96,208.28 L197.35,208.05 L197.85,113.03 L198.24,111.52 L198.64,110.72 L199.03,110.04 L199.43,109.53 L199.82,108.92 L200.22,108.53 L200.61,108.16 L201,108.4 L201.4,108.08 L201.79,107.74 L202.19,107.41 L202.58,107.75 L202.98,107.92 L203.37,107.8 L203.76,107.36 L204.16,107.01 L204.55,106.8 L204.95,106.75 L205.34,106.44 L205.74,106.44 L206.13,106.25 L206.52,106.66 L206.92,106.88 L207.31,106.63 L207.71,106.21 L208.1,106.5 L208.5,106.12 L208.89,105.9 L209.28,105.46 L209.68,105.47 L210.07,105.53 L210.47,105.57 L210.86,105.32 L211.26,105.4 L211.65,105.03 L212.15,196.22 L212.54,196.86 L212.93,197.76 L213.32,198.25 L213.71,198.77 L214.11,199.53 L214.5,200.13 L214.89,200.97 L215.28,201.61 L215.67,202.35 L216.06,202.88 L216.45,203.4 L216.84,203.99 L217.23,204.08 L217.63,204.22 L218.02,204.95 L218.41,204.83 L218.8,205.33 L219.19,205.66 L219.58,205.48 L219.97,206.09 L220.36,206.59 L220.75,206.75 L221.15,207.01 L221.54,207.3 L221.93,207 L222.32,207.19 L222.71,207.35 L223.1,207.77 L223.49,208.04 L223.88,208.27 L224.27,208.27 L224.67,208.55 L225.06,208.6 L225.45,208.67 L225.84,208.38 L226.23,208.08 L226.73,116.12 L227.12,114.61 L227.52,113.63 L227.91,113.6 L228.31,113.28 L228.7,113.04 L229.1,112.8 L229.49,112.59 L229.88,112.22 L230.28,111.51 L230.67,111.64 L231.07,111.59 L231.46,111.29 L231.86,111.05 L232.25,110.94 L232.64,110.33 L233.04,110.44 L233.43,110.05 L233.83,109.62 L234.22,109.46 L234.62,109.68 L235.01,109.34 L235.4,109.52 L235.8,109.77 L236.19,109.49 L236.59,109.19 L236.98,109.06 L237.38,109.1 L237.77,109.16 L238.16,109.04 L238.56,108.96 L238.95,108.42 L239.35,108.13 L239.74,108.02 L240.14,108.31 L240.53,108.11 L241.03,196.84 L241.43,197.52 L241.82,198.34 L242.22,199.33 L242.61,200.57 L243.01,201.62 L243.4,202.53 L243.8,203.03 L244.19,203.76 L244.59,204.39 L244.98,204.99 L245.38,205.29 L245.77,206.28 L246.17,206.5 L246.56,207.43 L246.96,208.12 L247.35,207.96 L247.75,208.35 L248.14,209.02 L248.54,209.66 L248.93,209.76 L249.33,209.78 L249.72,209.86 L250.12,210.59 L250.51,210.54 L250.91,210.89 L251.3,210.84 L251.69,211.19 L252.09,211.82 L252.49,211.61 L252.88,212.1 L253.28,212.21 L253.67,212.64 L254.06,212.8 L254.46,212.57 L254.85,213.02 L255.25,213" fill="none" stroke="#44a344" stroke-width="1.2"/>
<line x1="87.5" y1="52.1" x2="107.8" y2="52.1" stroke="#2a2a2a" stroke-width="1.2"/>
<text x="110.3" y="55.5" font-size="10.4" class="b" textLength="43.3" lengthAdjust="spacingAndGlyphs">Pure CdS,</text>
<line x1="156" y1="52.2" x2="176" y2="52.2" stroke="#ff3030" stroke-width="1.2"/>
<text x="178.6" y="55.6" font-size="10.4" class="b" textLength="43.6" lengthAdjust="spacingAndGlyphs">Pure TiO<tspan font-size="7.6" dy="3">2</tspan></text>
<line x1="87.5" y1="69.9" x2="107.8" y2="69.9" stroke="#4a4aff" stroke-width="1.3"/>
<text x="110.3" y="73" font-size="10.4" class="b" textLength="48.2" lengthAdjust="spacingAndGlyphs">CdS<tspan font-size="8.5" fill="#555">@</tspan>TiO<tspan font-size="7.6" dy="3">2</tspan><tspan dy="-3">,</tspan></text>
<line x1="161.4" y1="70.1" x2="181" y2="70.1" stroke="#44a344" stroke-width="1.2"/>
<text x="183" y="73" font-size="10.4" class="b" textLength="72" lengthAdjust="spacingAndGlyphs">CdS<tspan font-size="8.5" fill="#555">@</tspan>50G<tspan font-size="8.5" fill="#555">@</tspan>TiO<tspan font-size="7.6" dy="3">2</tspan></text>
<line x1="53.5" y1="88.0" x2="53.5" y2="98.0" stroke="#8c1aff" stroke-width="1.1"/>
<path d="M51.9,96.4 L55.1,96.4 L53.5,101.0 Z" fill="#8c1aff"/>
<text transform="translate(56.5,85.7) rotate(-90)" font-size="8.4" class="b">ON</text>
<line x1="66.5" y1="82.5" x2="66.5" y2="92.2" stroke="#8c1aff" stroke-width="1.1"/>
<path d="M64.9,90.60000000000001 L68.1,90.60000000000001 L66.5,95.2 Z" fill="#8c1aff"/>
<text transform="translate(69.5,81) rotate(-90)" font-size="8.4" class="b">OFF</text>
<text x="20.7" y="23.1" font-size="19.8" class="b">(</text>
<text x="28.1" y="24.1" font-size="20.4" class="b" textLength="10.9" lengthAdjust="spacingAndGlyphs">a</text>
<text x="39.6" y="23.1" font-size="19.8" class="b">)</text>
<text x="122.8" y="244.6" font-size="11.6" class="b" textLength="48.6" lengthAdjust="spacingAndGlyphs">Time (sec)</text>
<text transform="translate(15.1,196.4) rotate(-90)" font-size="10.4" class="b" textLength="138.3" lengthAdjust="spacingAndGlyphs">Photocurrent density (μA cm<tspan dy="-3.8" font-size="7.5">-2</tspan><tspan dy="3.8">)</tspan></text>
<rect x="313.4" y="41.9" width="218" height="178.8" fill="none" stroke="#333" stroke-width="1.35"/>
<line x1="310.4" y1="219" x2="313.4" y2="219" stroke="#333" stroke-width="1"/>
<text x="307.9" y="220.6" text-anchor="end" font-size="9.2" class="b">0</text>
<line x1="311.59999999999997" y1="202.86" x2="313.4" y2="202.86" stroke="#333" stroke-width="1"/>
<line x1="310.4" y1="186.72" x2="313.4" y2="186.72" stroke="#333" stroke-width="1"/>
<text x="307.9" y="188.32" text-anchor="end" font-size="9.2" class="b">10000</text>
<line x1="311.59999999999997" y1="170.58" x2="313.4" y2="170.58" stroke="#333" stroke-width="1"/>
<line x1="310.4" y1="154.44" x2="313.4" y2="154.44" stroke="#333" stroke-width="1"/>
<text x="307.9" y="156.04" text-anchor="end" font-size="9.2" class="b">20000</text>
<line x1="311.59999999999997" y1="138.3" x2="313.4" y2="138.3" stroke="#333" stroke-width="1"/>
<line x1="310.4" y1="122.16" x2="313.4" y2="122.16" stroke="#333" stroke-width="1"/>
<text x="307.9" y="123.76" text-anchor="end" font-size="9.2" class="b">30000</text>
<line x1="311.59999999999997" y1="106.02" x2="313.4" y2="106.02" stroke="#333" stroke-width="1"/>
<line x1="310.4" y1="89.88" x2="313.4" y2="89.88" stroke="#333" stroke-width="1"/>
<text x="307.9" y="91.48" text-anchor="end" font-size="9.2" class="b">40000</text>
<line x1="311.59999999999997" y1="73.74" x2="313.4" y2="73.74" stroke="#333" stroke-width="1"/>
<line x1="310.4" y1="57.6" x2="313.4" y2="57.6" stroke="#333" stroke-width="1"/>
<text x="307.9" y="59.2" text-anchor="end" font-size="9.2" class="b">50000</text>
<line x1="311.59999999999997" y1="41.46" x2="313.4" y2="41.46" stroke="#333" stroke-width="1"/>
<line x1="315.3" y1="220.7" x2="315.3" y2="223.7" stroke="#333" stroke-width="1"/>
<text x="315.3" y="232.7" text-anchor="middle" font-size="9.2" class="b">0</text>
<line x1="333.31" y1="220.7" x2="333.31" y2="222.5" stroke="#333" stroke-width="1"/>
<line x1="351.32" y1="220.7" x2="351.32" y2="223.7" stroke="#333" stroke-width="1"/>
<text x="351.32" y="232.7" text-anchor="middle" font-size="9.2" class="b">10000</text>
<line x1="369.33" y1="220.7" x2="369.33" y2="222.5" stroke="#333" stroke-width="1"/>
<line x1="387.33" y1="220.7" x2="387.33" y2="223.7" stroke="#333" stroke-width="1"/>
<text x="387.33" y="232.7" text-anchor="middle" font-size="9.2" class="b">20000</text>
<line x1="405.34" y1="220.7" x2="405.34" y2="222.5" stroke="#333" stroke-width="1"/>
<line x1="423.35" y1="220.7" x2="423.35" y2="223.7" stroke="#333" stroke-width="1"/>
<text x="423.35" y="232.7" text-anchor="middle" font-size="9.2" class="b">30000</text>
<line x1="441.36" y1="220.7" x2="441.36" y2="222.5" stroke="#333" stroke-width="1"/>
<line x1="459.37" y1="220.7" x2="459.37" y2="223.7" stroke="#333" stroke-width="1"/>
<text x="459.37" y="232.7" text-anchor="middle" font-size="9.2" class="b">40000</text>
<line x1="477.38" y1="220.7" x2="477.38" y2="222.5" stroke="#333" stroke-width="1"/>
<line x1="495.38" y1="220.7" x2="495.38" y2="223.7" stroke="#333" stroke-width="1"/>
<text x="495.38" y="232.7" text-anchor="middle" font-size="9.2" class="b">50000</text>
<line x1="513.39" y1="220.7" x2="513.39" y2="222.5" stroke="#333" stroke-width="1"/>
<line x1="531.4" y1="220.7" x2="531.4" y2="223.7" stroke="#333" stroke-width="1"/>
<text x="531.4" y="232.7" text-anchor="middle" font-size="9.2" class="b">60000</text>
<text x="314.6" y="23.1" font-size="19.8" class="b">(</text>
<text x="321.5" y="24.1" font-size="21" class="b" textLength="12.8" lengthAdjust="spacingAndGlyphs">b</text>
<text x="335.9" y="23.1" font-size="19.8" class="b">)</text>
<text x="413" y="247.3" font-size="11.2" class="b" textLength="42.3" lengthAdjust="spacingAndGlyphs">Z<tspan dy="2.6" font-size="8.2">Real</tspan><tspan dy="-2.6" font-size="9.5"> (Ω)</tspan></text>
<text transform="translate(273.4,151) rotate(-90)" font-size="10.5" class="b" textLength="43" lengthAdjust="spacingAndGlyphs">-Z<tspan dy="2.6" font-size="8">Img</tspan><tspan dy="-2.6" font-size="9"> (Ω)</tspan></text>
<clipPath id="cm"><rect x="313.4" y="41.9" width="218.0" height="178.79999999999998"/></clipPath>
<g clip-path="url(#cm)">
<path d="M379.72,123.34 L378.76,123.79 L377.8,124.25 L376.85,124.72 L375.9,125.19 L374.96,125.67 L374.02,126.16 L373.09,126.66 L372.16,127.16 L371.23,127.68 L370.31,128.2 L369.4,128.72 L368.49,129.26 L367.59,129.8 L366.7,130.35 L365.8,130.9 L364.92,131.47 L364.04,132.04 L363.17,132.62 L362.3,133.2 L361.44,133.8 L360.58,134.4 L359.73,135 L358.89,135.62 L358.05,136.24 L357.22,136.86 L356.4,137.5 L355.58,138.14 L354.77,138.78 L353.96,139.44 L353.17,140.1 L352.38,140.76 L351.59,141.44 L350.81,142.12 L350.04,142.8 L349.28,143.5 L348.52,144.19 L347.77,144.9 L347.03,145.61 L346.3,146.33 L345.57,147.05 L344.85,147.78 L344.14,148.51 L343.43,149.25 L342.74,150 L342.05,150.75 L341.36,151.51 L340.69,152.27 L340.02,153.04 L339.36,153.81 L338.71,154.59 L338.07,155.38 L337.44,156.17 L336.81,156.96 L336.19,157.76 L335.58,158.57 L334.98,159.38 L334.38,160.19 L333.8,161.01 L333.22,161.84 L332.65,162.66 L332.09,163.5 L331.54,164.34 L331,165.18 L330.46,166.03 L329.94,166.88 L329.42,167.73 L328.91,168.59 L328.41,169.46 L327.92,170.33 L327.44,171.2 L326.96,172.07 L326.5,172.95 L326.04,173.84 L325.6,174.72 L325.16,175.62 L324.73,176.51 L324.31,177.41 L323.9,178.31 L323.5,179.21 L323.11,180.12 L322.73,181.03 L322.35,181.95 L321.99,182.86 L321.64,183.78 L321.29,184.71 L320.96,185.63 L320.63,186.56 L320.31,187.49 L320.01,188.43 L319.71,189.36 L319.42,190.3 L319.14,191.24 L318.87,192.18 L318.61,193.13 L318.36,194.08 L318.12,195.02 L317.89,195.98 L317.67,196.93 L317.46,197.88 L317.26,198.84 L317.07,199.8 L316.89,200.76 L316.72,201.72 L316.55,202.68 L316.4,203.65 L316.26,204.61 L316.13,205.58 L316,206.54 L315.89,207.51 L315.79,208.48 L315.69,209.45 L315.61,210.42 L315.54,211.39 L315.47,212.36 L315.42,213.34 L315.38,214.31 L315.34,215.28 L315.32,216.25 L315.3,217.23 L315.3,218.2" fill="none" stroke="#ff1a1a" stroke-width="1.25"/>
<rect x="358.56" y="132.58" width="3.8" height="3.8" fill="#ff1a1a"/>
<rect x="344.04" y="144.78" width="3.8" height="3.8" fill="#ff1a1a"/>
<rect x="333.7" y="156.64" width="3.8" height="3.8" fill="#ff1a1a"/>
<rect x="326.62" y="167.36" width="3.8" height="3.8" fill="#ff1a1a"/>
<rect x="321.92" y="176.6" width="3.8" height="3.8" fill="#ff1a1a"/>
<rect x="318.85" y="184.33" width="3.8" height="3.8" fill="#ff1a1a"/>
<rect x="316.87" y="190.67" width="3.8" height="3.8" fill="#ff1a1a"/>
<rect x="315.6" y="195.82" width="3.8" height="3.8" fill="#ff1a1a"/>
<rect x="314.79" y="199.96" width="3.8" height="3.8" fill="#ff1a1a"/>
<rect x="314.28" y="203.28" width="3.8" height="3.8" fill="#ff1a1a"/>
<rect x="313.96" y="205.92" width="3.8" height="3.8" fill="#ff1a1a"/>
<rect x="313.75" y="208.04" width="3.8" height="3.8" fill="#ff1a1a"/>
<rect x="313.62" y="209.72" width="3.8" height="3.8" fill="#ff1a1a"/>
<rect x="313.54" y="211.05" width="3.8" height="3.8" fill="#ff1a1a"/>
<rect x="313.49" y="212.11" width="3.8" height="3.8" fill="#ff1a1a"/>
<path d="M404.27,206.89 L403.94,205.98 L403.59,205.08 L403.22,204.18 L402.82,203.29 L402.39,202.41 L401.95,201.53 L401.48,200.67 L400.99,199.82 L400.47,198.98 L399.94,198.15 L399.38,197.33 L398.8,196.52 L398.2,195.72 L397.58,194.94 L396.94,194.17 L396.28,193.42 L395.6,192.68 L394.9,191.95 L394.19,191.24 L393.45,190.54 L392.69,189.86 L391.92,189.2 L391.13,188.55 L390.33,187.92 L389.5,187.31 L388.66,186.71 L387.81,186.13 L386.94,185.57 L386.06,185.03 L385.16,184.51 L384.25,184 L383.33,183.52 L382.39,183.05 L381.44,182.61 L380.48,182.18 L379.51,181.78 L378.53,181.39 L377.54,181.03 L376.54,180.69 L375.53,180.37 L374.51,180.07 L373.49,179.79 L372.46,179.53 L371.42,179.3 L370.38,179.08 L369.33,178.89 L368.27,178.72 L367.22,178.58 L366.15,178.45 L365.09,178.35 L364.02,178.27 L362.95,178.22 L361.88,178.18 L360.81,178.17 L359.74,178.18 L358.67,178.21 L357.61,178.27 L356.54,178.35 L355.47,178.45 L354.41,178.57 L353.35,178.72 L352.3,178.89 L351.25,179.08 L350.21,179.29 L349.17,179.52 L348.14,179.78 L347.11,180.06 L346.1,180.36 L345.09,180.68 L344.09,181.02 L343.1,181.38 L342.11,181.77 L341.14,182.17 L340.18,182.6 L339.23,183.04 L338.3,183.5 L337.37,183.99 L336.46,184.49 L335.57,185.01 L334.68,185.56 L333.81,186.12 L332.96,186.69 L332.12,187.29 L331.3,187.9 L330.49,188.53 L329.7,189.18 L328.93,189.85 L328.17,190.53 L327.43,191.22 L326.72,191.93 L326.02,192.66 L325.33,193.4 L324.67,194.15 L324.03,194.92 L323.41,195.7 L322.81,196.5 L322.23,197.31 L321.68,198.12 L321.14,198.95 L320.63,199.8 L320.13,200.65 L319.67,201.51 L319.22,202.38 L318.8,203.26 L318.4,204.15 L318.02,205.05 L317.67,205.96 L317.34,206.87 L317.03,207.79 L316.75,208.72 L316.49,209.65 L316.26,210.58 L316.05,211.53 L315.87,212.47 L315.71,213.42 L315.58,214.37 L315.47,215.33 L315.39,216.28 L315.33,217.24 L315.3,218.2" fill="none" stroke="#111" stroke-width="1.25"/>
<rect x="402.37" y="204.99" width="3.8" height="3.8" fill="#111"/>
<rect x="401.22" y="202.07" width="3.8" height="3.8" fill="#111"/>
<rect x="399.46" y="198.57" width="3.8" height="3.8" fill="#111"/>
<rect x="396.81" y="194.49" width="3.8" height="3.8" fill="#111"/>
<rect x="392.93" y="189.98" width="3.8" height="3.8" fill="#111"/>
<rect x="387.47" y="185.31" width="3.8" height="3.8" fill="#111"/>
<rect x="380.19" y="181.01" width="3.8" height="3.8" fill="#111"/>
<rect x="371.2" y="177.79" width="3.8" height="3.8" fill="#111"/>
<rect x="361.03" y="176.31" width="3.8" height="3.8" fill="#111"/>
<rect x="350.65" y="176.95" width="3.8" height="3.8" fill="#111"/>
<rect x="341.08" y="179.53" width="3.8" height="3.8" fill="#111"/>
<rect x="333.07" y="183.48" width="3.8" height="3.8" fill="#111"/>
<rect x="326.89" y="188.07" width="3.8" height="3.8" fill="#111"/>
<rect x="322.4" y="192.7" width="3.8" height="3.8" fill="#111"/>
<rect x="319.29" y="196.97" width="3.8" height="3.8" fill="#111"/>
<rect x="317.21" y="200.71" width="3.8" height="3.8" fill="#111"/>
<rect x="315.84" y="203.87" width="3.8" height="3.8" fill="#111"/>
<rect x="314.95" y="206.48" width="3.8" height="3.8" fill="#111"/>
<rect x="314.38" y="208.6" width="3.8" height="3.8" fill="#111"/>
<rect x="314.02" y="210.31" width="3.8" height="3.8" fill="#111"/>
<rect x="313.79" y="211.69" width="3.8" height="3.8" fill="#111"/>
<rect x="313.64" y="212.78" width="3.8" height="3.8" fill="#111"/>
<rect x="313.55" y="213.66" width="3.8" height="3.8" fill="#111"/>
<rect x="313.49" y="214.36" width="3.8" height="3.8" fill="#111"/>
<rect x="313.46" y="214.91" width="3.8" height="3.8" fill="#111"/>
<rect x="313.43" y="215.35" width="3.8" height="3.8" fill="#111"/>
<path d="M362.83,202.98 L362.47,202.61 L362.11,202.25 L361.73,201.9 L361.35,201.55 L360.96,201.21 L360.56,200.88 L360.16,200.55 L359.75,200.24 L359.33,199.93 L358.91,199.62 L358.47,199.33 L358.04,199.04 L357.59,198.76 L357.14,198.49 L356.68,198.23 L356.22,197.97 L355.75,197.73 L355.28,197.49 L354.8,197.26 L354.32,197.04 L353.83,196.83 L353.34,196.63 L352.84,196.43 L352.34,196.25 L351.83,196.07 L351.32,195.9 L350.81,195.75 L350.29,195.6 L349.77,195.46 L349.25,195.33 L348.72,195.21 L348.19,195.1 L347.66,195 L347.13,194.91 L346.59,194.82 L346.05,194.75 L345.52,194.69 L344.98,194.64 L344.44,194.59 L343.89,194.56 L343.35,194.54 L342.81,194.52 L342.27,194.52 L341.72,194.53 L341.18,194.54 L340.64,194.57 L340.1,194.6 L339.56,194.65 L339.02,194.7 L338.48,194.76 L337.94,194.84 L337.41,194.92 L336.88,195.01 L336.35,195.12 L335.82,195.23 L335.29,195.35 L334.77,195.48 L334.25,195.62 L333.73,195.77 L333.22,195.93 L332.71,196.1 L332.2,196.28 L331.7,196.46 L331.21,196.66 L330.71,196.86 L330.23,197.08 L329.74,197.3 L329.26,197.53 L328.79,197.77 L328.32,198.02 L327.86,198.27 L327.41,198.54 L326.96,198.81 L326.51,199.09 L326.08,199.38 L325.65,199.67 L325.22,199.98 L324.81,200.29 L324.4,200.61 L323.99,200.94 L323.6,201.27 L323.21,201.61 L322.83,201.96 L322.46,202.31 L322.09,202.67 L321.74,203.04 L321.39,203.41 L321.05,203.79 L320.72,204.18 L320.4,204.57 L320.09,204.97 L319.78,205.37 L319.49,205.78 L319.2,206.19 L318.92,206.61 L318.66,207.03 L318.4,207.46 L318.15,207.9 L317.91,208.33 L317.68,208.77 L317.47,209.22 L317.26,209.67 L317.06,210.12 L316.87,210.58 L316.69,211.04 L316.53,211.5 L316.37,211.97 L316.22,212.44 L316.09,212.91 L315.96,213.38 L315.85,213.85 L315.74,214.33 L315.65,214.81 L315.57,215.29 L315.5,215.77 L315.43,216.26 L315.38,216.74 L315.35,217.23 L315.32,217.71 L315.3,218.2" fill="none" stroke="#ff1a1a" stroke-width="1.25"/>
<circle cx="362.83" cy="202.98" r="2.05" fill="#ff1a1a"/>
<circle cx="359.7" cy="200.2" r="2.05" fill="#ff1a1a"/>
<circle cx="355.51" cy="197.6" r="2.05" fill="#ff1a1a"/>
<circle cx="350.28" cy="195.59" r="2.05" fill="#ff1a1a"/>
<circle cx="344.29" cy="194.58" r="2.05" fill="#ff1a1a"/>
<circle cx="338.11" cy="194.81" r="2.05" fill="#ff1a1a"/>
<circle cx="332.35" cy="196.23" r="2.05" fill="#ff1a1a"/>
<circle cx="327.47" cy="198.5" r="2.05" fill="#ff1a1a"/>
<circle cx="323.67" cy="201.2" r="2.05" fill="#ff1a1a"/>
<circle cx="320.9" cy="203.96" r="2.05" fill="#ff1a1a"/>
<circle cx="318.97" cy="206.53" r="2.05" fill="#ff1a1a"/>
<circle cx="317.67" cy="208.79" r="2.05" fill="#ff1a1a"/>
<circle cx="316.82" cy="210.71" r="2.05" fill="#ff1a1a"/>
<circle cx="316.27" cy="212.29" r="2.05" fill="#ff1a1a"/>
<circle cx="315.91" cy="213.58" r="2.05" fill="#ff1a1a"/>
<circle cx="315.68" cy="214.63" r="2.05" fill="#ff1a1a"/>
<circle cx="315.54" cy="215.46" r="2.05" fill="#ff1a1a"/>
<circle cx="315.45" cy="216.13" r="2.05" fill="#ff1a1a"/>
<circle cx="315.39" cy="216.66" r="2.05" fill="#ff1a1a"/>
<circle cx="315.36" cy="217.09" r="2.05" fill="#ff1a1a"/>
<circle cx="315.33" cy="217.43" r="2.05" fill="#ff1a1a"/>
<circle cx="315.32" cy="217.7" r="2.05" fill="#ff1a1a"/>
<circle cx="315.31" cy="217.91" r="2.05" fill="#ff1a1a"/>
<path d="M339.23,214.43 L339.12,214.2 L339.01,213.97 L338.89,213.74 L338.76,213.52 L338.63,213.29 L338.49,213.07 L338.35,212.86 L338.2,212.64 L338.04,212.43 L337.88,212.23 L337.72,212.02 L337.55,211.82 L337.37,211.62 L337.19,211.43 L337.01,211.24 L336.82,211.05 L336.63,210.87 L336.43,210.69 L336.22,210.52 L336.02,210.35 L335.81,210.18 L335.59,210.02 L335.37,209.87 L335.15,209.71 L334.92,209.57 L334.69,209.42 L334.45,209.28 L334.22,209.15 L333.97,209.02 L333.73,208.9 L333.48,208.78 L333.23,208.66 L332.98,208.55 L332.72,208.45 L332.46,208.35 L332.2,208.26 L331.94,208.17 L331.67,208.09 L331.41,208.01 L331.14,207.94 L330.87,207.87 L330.59,207.81 L330.32,207.76 L330.04,207.71 L329.77,207.66 L329.49,207.62 L329.21,207.59 L328.93,207.56 L328.65,207.54 L328.37,207.53 L328.09,207.52 L327.81,207.51 L327.53,207.51 L327.25,207.52 L326.97,207.53 L326.69,207.55 L326.41,207.57 L326.13,207.6 L325.85,207.64 L325.57,207.68 L325.3,207.73 L325.02,207.78 L324.75,207.84 L324.48,207.9 L324.21,207.97 L323.94,208.04 L323.67,208.12 L323.41,208.21 L323.14,208.3 L322.88,208.39 L322.63,208.49 L322.37,208.6 L322.12,208.71 L321.87,208.83 L321.62,208.95 L321.38,209.07 L321.14,209.2 L320.9,209.34 L320.67,209.48 L320.44,209.63 L320.21,209.77 L319.99,209.93 L319.77,210.09 L319.56,210.25 L319.35,210.42 L319.14,210.59 L318.94,210.77 L318.75,210.95 L318.55,211.13 L318.37,211.32 L318.18,211.51 L318.01,211.7 L317.83,211.9 L317.67,212.1 L317.5,212.31 L317.35,212.52 L317.19,212.73 L317.05,212.94 L316.91,213.16 L316.77,213.38 L316.64,213.61 L316.52,213.83 L316.4,214.06 L316.28,214.29 L316.18,214.52 L316.08,214.76 L315.98,215 L315.89,215.23 L315.81,215.47 L315.73,215.72 L315.66,215.96 L315.59,216.21 L315.54,216.45 L315.48,216.7 L315.44,216.95 L315.4,217.2 L315.36,217.45 L315.34,217.7 L315.31,217.95 L315.3,218.2" fill="none" stroke="#111" stroke-width="1.25"/>
<circle cx="339.23" cy="214.43" r="2.05" fill="#111"/>
<circle cx="338.72" cy="213.45" r="2.05" fill="#111"/>
<circle cx="337.95" cy="212.31" r="2.05" fill="#111"/>
<circle cx="336.83" cy="211.07" r="2.05" fill="#111"/>
<circle cx="335.27" cy="209.79" r="2.05" fill="#111"/>
<circle cx="333.2" cy="208.65" r="2.05" fill="#111"/>
<circle cx="330.68" cy="207.83" r="2.05" fill="#111"/>
<circle cx="327.88" cy="207.51" r="2.05" fill="#111"/>
<circle cx="325.06" cy="207.77" r="2.05" fill="#111"/>
<circle cx="322.5" cy="208.55" r="2.05" fill="#111"/>
<circle cx="320.38" cy="209.66" r="2.05" fill="#111"/>
<circle cx="318.76" cy="210.93" r="2.05" fill="#111"/>
<circle cx="317.6" cy="212.19" r="2.05" fill="#111"/>
<circle cx="316.8" cy="213.33" r="2.05" fill="#111"/>
<circle cx="316.26" cy="214.33" r="2.05" fill="#111"/>
<circle cx="315.91" cy="215.17" r="2.05" fill="#111"/>
<circle cx="315.69" cy="215.86" r="2.05" fill="#111"/>
<circle cx="315.54" cy="216.42" r="2.05" fill="#111"/>
<circle cx="315.45" cy="216.88" r="2.05" fill="#111"/>
<circle cx="315.39" cy="217.24" r="2.05" fill="#111"/>
<circle cx="315.35" cy="217.53" r="2.05" fill="#111"/>
<circle cx="315.33" cy="217.76" r="2.05" fill="#111"/>
<circle cx="315.31" cy="217.95" r="2.05" fill="#111"/>
<circle cx="315.31" cy="218.09" r="2.05" fill="#111"/>
<circle cx="315.3" cy="218.2" r="2.05" fill="#111"/>
<path d="M333.85,215.66 L333.77,215.48 L333.69,215.3 L333.6,215.12 L333.51,214.94 L333.41,214.76 L333.31,214.59 L333.21,214.42 L333.1,214.25 L332.98,214.08 L332.86,213.92 L332.74,213.76 L332.62,213.6 L332.49,213.44 L332.35,213.29 L332.21,213.13 L332.07,212.99 L331.93,212.84 L331.78,212.7 L331.62,212.56 L331.47,212.42 L331.31,212.29 L331.14,212.16 L330.98,212.03 L330.81,211.91 L330.63,211.79 L330.46,211.67 L330.28,211.56 L330.1,211.45 L329.91,211.35 L329.73,211.24 L329.54,211.15 L329.35,211.05 L329.15,210.96 L328.96,210.88 L328.76,210.8 L328.56,210.72 L328.35,210.65 L328.15,210.58 L327.94,210.51 L327.74,210.45 L327.53,210.39 L327.32,210.34 L327.11,210.29 L326.89,210.25 L326.68,210.21 L326.46,210.18 L326.25,210.15 L326.03,210.12 L325.81,210.1 L325.6,210.08 L325.38,210.07 L325.16,210.06 L324.94,210.06 L324.72,210.06 L324.51,210.06 L324.29,210.07 L324.07,210.09 L323.85,210.1 L323.64,210.13 L323.42,210.15 L323.2,210.19 L322.99,210.22 L322.78,210.26 L322.56,210.31 L322.35,210.36 L322.14,210.41 L321.93,210.47 L321.73,210.53 L321.52,210.6 L321.32,210.67 L321.12,210.74 L320.92,210.82 L320.72,210.9 L320.52,210.99 L320.33,211.08 L320.14,211.17 L319.95,211.27 L319.76,211.38 L319.58,211.48 L319.4,211.59 L319.22,211.71 L319.05,211.82 L318.87,211.94 L318.71,212.07 L318.54,212.2 L318.38,212.33 L318.22,212.46 L318.06,212.6 L317.91,212.74 L317.76,212.88 L317.62,213.03 L317.48,213.18 L317.34,213.33 L317.21,213.49 L317.08,213.64 L316.95,213.8 L316.83,213.97 L316.72,214.13 L316.6,214.3 L316.49,214.47 L316.39,214.64 L316.29,214.82 L316.2,214.99 L316.11,215.17 L316.02,215.35 L315.94,215.53 L315.86,215.72 L315.79,215.9 L315.72,216.09 L315.66,216.27 L315.6,216.46 L315.55,216.65 L315.5,216.84 L315.46,217.04 L315.42,217.23 L315.39,217.42 L315.36,217.62 L315.33,217.81 L315.32,218 L315.3,218.2" fill="none" stroke="#1c1cff" stroke-width="1.25"/>
<rect x="331.95" y="213.76" width="3.8" height="3.8" fill="#1c1cff"/>
<rect x="331.62" y="213.06" width="3.8" height="3.8" fill="#1c1cff"/>
<rect x="331.12" y="212.23" width="3.8" height="3.8" fill="#1c1cff"/>
<rect x="330.38" y="211.3" width="3.8" height="3.8" fill="#1c1cff"/>
<rect x="329.32" y="210.32" width="3.8" height="3.8" fill="#1c1cff"/>
<rect x="327.89" y="209.38" width="3.8" height="3.8" fill="#1c1cff"/>
<rect x="326.09" y="208.63" width="3.8" height="3.8" fill="#1c1cff"/>
<rect x="324" y="208.21" width="3.8" height="3.8" fill="#1c1cff"/>
<rect x="321.8" y="208.22" width="3.8" height="3.8" fill="#1c1cff"/>
<rect x="319.73" y="208.66" width="3.8" height="3.8" fill="#1c1cff"/>
<rect x="317.94" y="209.43" width="3.8" height="3.8" fill="#1c1cff"/>
<rect x="316.54" y="210.38" width="3.8" height="3.8" fill="#1c1cff"/>
<rect x="315.51" y="211.36" width="3.8" height="3.8" fill="#1c1cff"/>
<rect x="314.78" y="212.28" width="3.8" height="3.8" fill="#1c1cff"/>
<rect x="314.29" y="213.1" width="3.8" height="3.8" fill="#1c1cff"/>
<rect x="313.97" y="213.8" width="3.8" height="3.8" fill="#1c1cff"/>
<rect x="313.76" y="214.38" width="3.8" height="3.8" fill="#1c1cff"/>
<rect x="313.62" y="214.85" width="3.8" height="3.8" fill="#1c1cff"/>
<rect x="313.54" y="215.23" width="3.8" height="3.8" fill="#1c1cff"/>
<rect x="313.48" y="215.54" width="3.8" height="3.8" fill="#1c1cff"/>
<rect x="313.45" y="215.78" width="3.8" height="3.8" fill="#1c1cff"/>
<rect x="313.43" y="215.98" width="3.8" height="3.8" fill="#1c1cff"/>
<rect x="313.41" y="216.13" width="3.8" height="3.8" fill="#1c1cff"/>
<rect x="313.4" y="216.26" width="3.8" height="3.8" fill="#1c1cff"/>
<rect x="313.4" y="216.3" width="3.8" height="3.8" fill="#1c1cff"/>
<rect x="313.4" y="216.3" width="3.8" height="3.8" fill="#1c1cff"/>
<path d="M329.47,216.84 L329.43,216.7 L329.37,216.55 L329.32,216.41 L329.26,216.27 L329.2,216.13 L329.13,215.99 L329.06,215.85 L328.98,215.71 L328.91,215.58 L328.83,215.45 L328.74,215.32 L328.65,215.19 L328.56,215.06 L328.47,214.93 L328.37,214.81 L328.27,214.69 L328.17,214.57 L328.06,214.45 L327.95,214.34 L327.84,214.23 L327.72,214.12 L327.6,214.01 L327.48,213.9 L327.36,213.8 L327.23,213.7 L327.1,213.6 L326.97,213.51 L326.84,213.42 L326.7,213.33 L326.56,213.24 L326.42,213.16 L326.28,213.08 L326.13,213 L325.99,212.93 L325.84,212.86 L325.69,212.79 L325.53,212.72 L325.38,212.66 L325.22,212.61 L325.07,212.55 L324.91,212.5 L324.75,212.45 L324.59,212.41 L324.42,212.36 L324.26,212.33 L324.1,212.29 L323.93,212.26 L323.77,212.23 L323.6,212.21 L323.43,212.19 L323.26,212.17 L323.1,212.16 L322.93,212.15 L322.76,212.14 L322.59,212.13 L322.42,212.14 L322.25,212.14 L322.08,212.15 L321.92,212.16 L321.75,212.17 L321.58,212.19 L321.41,212.21 L321.25,212.24 L321.08,212.26 L320.92,212.3 L320.75,212.33 L320.59,212.37 L320.43,212.41 L320.27,212.46 L320.11,212.51 L319.95,212.56 L319.79,212.61 L319.64,212.67 L319.48,212.73 L319.33,212.8 L319.18,212.87 L319.03,212.94 L318.88,213.01 L318.74,213.09 L318.6,213.17 L318.45,213.25 L318.32,213.34 L318.18,213.43 L318.05,213.52 L317.91,213.62 L317.79,213.71 L317.66,213.81 L317.54,213.92 L317.41,214.02 L317.3,214.13 L317.18,214.24 L317.07,214.35 L316.96,214.47 L316.85,214.59 L316.75,214.71 L316.65,214.83 L316.55,214.95 L316.46,215.08 L316.37,215.21 L316.28,215.33 L316.2,215.47 L316.12,215.6 L316.04,215.73 L315.97,215.87 L315.9,216.01 L315.83,216.15 L315.77,216.29 L315.71,216.43 L315.65,216.57 L315.6,216.72 L315.56,216.86 L315.51,217.01 L315.47,217.15 L315.44,217.3 L315.4,217.45 L315.38,217.6 L315.35,217.75 L315.33,217.9 L315.31,218.05 L315.3,218.2" fill="none" stroke="#1d8a1d" stroke-width="1.25"/>
<rect x="327.57" y="214.94" width="3.8" height="3.8" fill="#1d8a1d"/>
<rect x="327.42" y="214.51" width="3.8" height="3.8" fill="#1d8a1d"/>
<rect x="327.17" y="213.98" width="3.8" height="3.8" fill="#1d8a1d"/>
<rect x="326.81" y="213.36" width="3.8" height="3.8" fill="#1d8a1d"/>
<rect x="326.27" y="212.67" width="3.8" height="3.8" fill="#1d8a1d"/>
<rect x="325.49" y="211.93" width="3.8" height="3.8" fill="#1d8a1d"/>
<rect x="324.43" y="211.21" width="3.8" height="3.8" fill="#1d8a1d"/>
<rect x="323.09" y="210.63" width="3.8" height="3.8" fill="#1d8a1d"/>
<rect x="321.53" y="210.29" width="3.8" height="3.8" fill="#1d8a1d"/>
<rect x="319.87" y="210.27" width="3.8" height="3.8" fill="#1d8a1d"/>
<rect x="318.29" y="210.58" width="3.8" height="3.8" fill="#1d8a1d"/>
<rect x="316.92" y="211.15" width="3.8" height="3.8" fill="#1d8a1d"/>
<rect x="315.84" y="211.85" width="3.8" height="3.8" fill="#1d8a1d"/>
<rect x="315.04" y="212.59" width="3.8" height="3.8" fill="#1d8a1d"/>
<rect x="314.47" y="213.3" width="3.8" height="3.8" fill="#1d8a1d"/>
<rect x="314.09" y="213.92" width="3.8" height="3.8" fill="#1d8a1d"/>
<rect x="313.84" y="214.46" width="3.8" height="3.8" fill="#1d8a1d"/>
<rect x="313.67" y="214.9" width="3.8" height="3.8" fill="#1d8a1d"/>
<rect x="313.57" y="215.26" width="3.8" height="3.8" fill="#1d8a1d"/>
<rect x="313.5" y="215.56" width="3.8" height="3.8" fill="#1d8a1d"/>
<rect x="313.46" y="215.79" width="3.8" height="3.8" fill="#1d8a1d"/>
<rect x="313.43" y="215.98" width="3.8" height="3.8" fill="#1d8a1d"/>
<rect x="313.42" y="216.13" width="3.8" height="3.8" fill="#1d8a1d"/>
<rect x="313.4" y="216.25" width="3.8" height="3.8" fill="#1d8a1d"/>
<rect x="313.4" y="216.3" width="3.8" height="3.8" fill="#1d8a1d"/>
<rect x="313.4" y="216.3" width="3.8" height="3.8" fill="#1d8a1d"/>
<rect x="313.4" y="216.3" width="3.8" height="3.8" fill="#1d8a1d"/>
<path d="M325.97,217.44 L325.94,217.32 L325.91,217.21 L325.88,217.1 L325.84,216.99 L325.8,216.88 L325.76,216.77 L325.71,216.66 L325.66,216.55 L325.61,216.44 L325.56,216.34 L325.5,216.23 L325.44,216.13 L325.38,216.02 L325.31,215.92 L325.24,215.82 L325.17,215.73 L325.1,215.63 L325.02,215.54 L324.94,215.44 L324.86,215.35 L324.78,215.26 L324.69,215.18 L324.61,215.09 L324.52,215.01 L324.42,214.92 L324.33,214.84 L324.23,214.77 L324.13,214.69 L324.03,214.62 L323.93,214.55 L323.82,214.48 L323.72,214.41 L323.61,214.35 L323.5,214.28 L323.38,214.23 L323.27,214.17 L323.16,214.11 L323.04,214.06 L322.92,214.01 L322.8,213.96 L322.68,213.92 L322.56,213.88 L322.44,213.84 L322.32,213.8 L322.19,213.77 L322.07,213.74 L321.94,213.71 L321.81,213.68 L321.68,213.66 L321.56,213.64 L321.43,213.62 L321.3,213.61 L321.17,213.6 L321.04,213.59 L320.91,213.58 L320.78,213.58 L320.65,213.58 L320.52,213.58 L320.39,213.58 L320.26,213.59 L320.13,213.6 L320,213.62 L319.87,213.63 L319.74,213.65 L319.62,213.67 L319.49,213.7 L319.36,213.73 L319.24,213.76 L319.11,213.79 L318.99,213.82 L318.86,213.86 L318.74,213.9 L318.62,213.95 L318.5,213.99 L318.38,214.04 L318.27,214.09 L318.15,214.15 L318.04,214.2 L317.93,214.26 L317.81,214.32 L317.71,214.38 L317.6,214.45 L317.49,214.52 L317.39,214.59 L317.29,214.66 L317.19,214.74 L317.09,214.81 L316.99,214.89 L316.9,214.97 L316.81,215.06 L316.72,215.14 L316.63,215.23 L316.55,215.32 L316.46,215.41 L316.39,215.5 L316.31,215.59 L316.23,215.69 L316.16,215.78 L316.09,215.88 L316.03,215.98 L315.96,216.08 L315.9,216.19 L315.84,216.29 L315.79,216.4 L315.73,216.5 L315.68,216.61 L315.64,216.72 L315.59,216.83 L315.55,216.94 L315.51,217.05 L315.48,217.16 L315.45,217.28 L315.42,217.39 L315.39,217.51 L315.37,217.62 L315.35,217.74 L315.33,217.85 L315.32,217.97 L315.31,218.08 L315.3,218.2" fill="none" stroke="#1c1cff" stroke-width="1.25"/>
<circle cx="325.97" cy="217.44" r="2.05" fill="#1c1cff"/>
<circle cx="325.91" cy="217.19" r="2.05" fill="#1c1cff"/>
<circle cx="325.81" cy="216.89" r="2.05" fill="#1c1cff"/>
<circle cx="325.65" cy="216.53" r="2.05" fill="#1c1cff"/>
<circle cx="325.42" cy="216.09" r="2.05" fill="#1c1cff"/>
<circle cx="325.07" cy="215.6" r="2.05" fill="#1c1cff"/>
<circle cx="324.56" cy="215.05" r="2.05" fill="#1c1cff"/>
<circle cx="323.86" cy="214.5" r="2.05" fill="#1c1cff"/>
<circle cx="322.94" cy="214.02" r="2.05" fill="#1c1cff"/>
<circle cx="321.83" cy="213.69" r="2.05" fill="#1c1cff"/>
<circle cx="320.6" cy="213.58" r="2.05" fill="#1c1cff"/>
<circle cx="319.39" cy="213.72" r="2.05" fill="#1c1cff"/>
<circle cx="318.3" cy="214.08" r="2.05" fill="#1c1cff"/>
<circle cx="317.41" cy="214.57" r="2.05" fill="#1c1cff"/>
<circle cx="316.73" cy="215.13" r="2.05" fill="#1c1cff"/>
<circle cx="316.25" cy="215.67" r="2.05" fill="#1c1cff"/>
<circle cx="315.92" cy="216.16" r="2.05" fill="#1c1cff"/>
<circle cx="315.7" cy="216.58" r="2.05" fill="#1c1cff"/>
<circle cx="315.55" cy="216.94" r="2.05" fill="#1c1cff"/>
<circle cx="315.46" cy="217.23" r="2.05" fill="#1c1cff"/>
<circle cx="315.4" cy="217.47" r="2.05" fill="#1c1cff"/>
<circle cx="315.36" cy="217.66" r="2.05" fill="#1c1cff"/>
<circle cx="315.34" cy="217.81" r="2.05" fill="#1c1cff"/>
<circle cx="315.32" cy="217.93" r="2.05" fill="#1c1cff"/>
<circle cx="315.31" cy="218.03" r="2.05" fill="#1c1cff"/>
<circle cx="315.31" cy="218.11" r="2.05" fill="#1c1cff"/>
<circle cx="315.3" cy="218.17" r="2.05" fill="#1c1cff"/>
<circle cx="315.3" cy="218.2" r="2.05" fill="#1c1cff"/>
<path d="M323.07,217.9 L323.06,217.81 L323.04,217.73 L323.03,217.64 L323.01,217.55 L322.99,217.47 L322.96,217.38 L322.94,217.3 L322.91,217.21 L322.88,217.13 L322.85,217.05 L322.81,216.97 L322.77,216.88 L322.73,216.8 L322.69,216.72 L322.65,216.65 L322.6,216.57 L322.55,216.49 L322.5,216.42 L322.45,216.34 L322.4,216.27 L322.34,216.2 L322.28,216.13 L322.22,216.06 L322.16,215.99 L322.09,215.92 L322.02,215.86 L321.96,215.8 L321.89,215.73 L321.81,215.67 L321.74,215.62 L321.67,215.56 L321.59,215.5 L321.51,215.45 L321.43,215.4 L321.35,215.35 L321.27,215.3 L321.19,215.26 L321.1,215.21 L321.01,215.17 L320.93,215.13 L320.84,215.09 L320.75,215.06 L320.66,215.02 L320.57,214.99 L320.47,214.96 L320.38,214.93 L320.29,214.91 L320.19,214.88 L320.1,214.86 L320,214.84 L319.91,214.82 L319.81,214.81 L319.71,214.8 L319.61,214.79 L319.52,214.78 L319.42,214.77 L319.32,214.77 L319.22,214.77 L319.13,214.77 L319.03,214.77 L318.93,214.77 L318.83,214.78 L318.73,214.79 L318.64,214.8 L318.54,214.81 L318.44,214.83 L318.35,214.85 L318.25,214.87 L318.16,214.89 L318.06,214.92 L317.97,214.94 L317.88,214.97 L317.78,215 L317.69,215.03 L317.6,215.07 L317.51,215.11 L317.43,215.15 L317.34,215.19 L317.25,215.23 L317.17,215.27 L317.09,215.32 L317,215.37 L316.92,215.42 L316.84,215.47 L316.77,215.53 L316.69,215.58 L316.62,215.64 L316.54,215.7 L316.47,215.76 L316.4,215.82 L316.34,215.88 L316.27,215.95 L316.21,216.02 L316.14,216.09 L316.08,216.15 L316.03,216.23 L315.97,216.3 L315.92,216.37 L315.86,216.45 L315.81,216.52 L315.77,216.6 L315.72,216.68 L315.68,216.76 L315.64,216.84 L315.6,216.92 L315.56,217 L315.53,217.08 L315.5,217.16 L315.47,217.25 L315.44,217.33 L315.41,217.42 L315.39,217.5 L315.37,217.59 L315.35,217.67 L315.34,217.76 L315.33,217.85 L315.32,217.94 L315.31,218.02 L315.3,218.11 L315.3,218.2" fill="none" stroke="#1d8a1d" stroke-width="1.25"/>
<circle cx="323.07" cy="217.9" r="2.05" fill="#1d8a1d"/>
<circle cx="323.06" cy="217.81" r="2.05" fill="#1d8a1d"/>
<circle cx="323.04" cy="217.7" r="2.05" fill="#1d8a1d"/>
<circle cx="323.01" cy="217.56" r="2.05" fill="#1d8a1d"/>
<circle cx="322.96" cy="217.38" r="2.05" fill="#1d8a1d"/>
<circle cx="322.89" cy="217.16" r="2.05" fill="#1d8a1d"/>
<circle cx="322.78" cy="216.9" r="2.05" fill="#1d8a1d"/>
<circle cx="322.62" cy="216.59" r="2.05" fill="#1d8a1d"/>
<circle cx="322.37" cy="216.23" r="2.05" fill="#1d8a1d"/>
<circle cx="322" cy="215.84" r="2.05" fill="#1d8a1d"/>
<circle cx="321.5" cy="215.44" r="2.05" fill="#1d8a1d"/>
<circle cx="320.84" cy="215.09" r="2.05" fill="#1d8a1d"/>
<circle cx="320.03" cy="214.85" r="2.05" fill="#1d8a1d"/>
<circle cx="319.15" cy="214.77" r="2.05" fill="#1d8a1d"/>
<circle cx="318.27" cy="214.86" r="2.05" fill="#1d8a1d"/>
<circle cx="317.48" cy="215.12" r="2.05" fill="#1d8a1d"/>
<circle cx="316.84" cy="215.48" r="2.05" fill="#1d8a1d"/>
<circle cx="316.35" cy="215.88" r="2.05" fill="#1d8a1d"/>
<circle cx="315.99" cy="216.27" r="2.05" fill="#1d8a1d"/>
<circle cx="315.75" cy="216.62" r="2.05" fill="#1d8a1d"/>
<circle cx="315.59" cy="216.93" r="2.05" fill="#1d8a1d"/>
<circle cx="315.49" cy="217.19" r="2.05" fill="#1d8a1d"/>
<circle cx="315.42" cy="217.4" r="2.05" fill="#1d8a1d"/>
<circle cx="315.38" cy="217.57" r="2.05" fill="#1d8a1d"/>
<circle cx="315.35" cy="217.71" r="2.05" fill="#1d8a1d"/>
<circle cx="315.33" cy="217.82" r="2.05" fill="#1d8a1d"/>
<circle cx="315.32" cy="217.91" r="2.05" fill="#1d8a1d"/>
<circle cx="315.31" cy="217.98" r="2.05" fill="#1d8a1d"/>
<circle cx="315.31" cy="218.04" r="2.05" fill="#1d8a1d"/>
<circle cx="315.3" cy="218.08" r="2.05" fill="#1d8a1d"/>
<circle cx="315.3" cy="218.12" r="2.05" fill="#1d8a1d"/>
</g>
<line x1="315.5" y1="218.5" x2="330.45" y2="119.74" stroke="#ffb400" stroke-width="1.2" stroke-dasharray="1.3,1.1"/>
<path d="M331.2,114.8 L332.33,120.03 L328.57,119.46 Z" fill="#ffb400"/>
<line x1="344.7" y1="220.6" x2="401.4" y2="122.43" stroke="#ffb400" stroke-width="1.2" stroke-dasharray="1.3,1.1"/>
<path d="M403.9,118.1 L403.04,123.38 L399.75,121.48 Z" fill="#ffb400"/>
<rect x="331.7" y="47.0" width="72.80000000000001" height="64.0" fill="#fff" stroke="#999" stroke-width="0.6"/>
<clipPath id="ci"><rect x="331.7" y="47.0" width="72.80000000000001" height="64.0"/></clipPath>
<g clip-path="url(#ci)">
<path d="M488.66,-116.63 L486.37,-115.56 L484.1,-114.48 L481.84,-113.38 L479.59,-112.27 L477.36,-111.13 L475.13,-109.98 L472.92,-108.81 L470.71,-107.62 L468.52,-106.41 L466.35,-105.19 L464.18,-103.94 L462.03,-102.68 L459.89,-101.41 L457.76,-100.11 L455.65,-98.8 L453.55,-97.47 L451.47,-96.12 L449.4,-94.76 L447.34,-93.38 L445.3,-91.98 L443.27,-90.57 L441.25,-89.14 L439.26,-87.69 L437.27,-86.23 L435.3,-84.75 L433.35,-83.26 L431.41,-81.75 L429.49,-80.22 L427.58,-78.68 L425.69,-77.12 L423.81,-75.55 L421.95,-73.97 L420.11,-72.36 L418.28,-70.75 L416.47,-69.11 L414.68,-67.47 L412.9,-65.81 L411.14,-64.13 L409.4,-62.44 L407.68,-60.74 L405.97,-59.02 L404.28,-57.29 L402.61,-55.54 L400.95,-53.78 L399.32,-52.01 L397.7,-50.23 L396.1,-48.43 L394.52,-46.62 L392.96,-44.79 L391.42,-42.95 L389.89,-41.1 L388.39,-39.24 L386.9,-37.37 L385.43,-35.48 L383.99,-33.59 L382.56,-31.68 L381.15,-29.76 L379.76,-27.82 L378.39,-25.88 L377.04,-23.92 L375.71,-21.96 L374.41,-19.98 L373.12,-18 L371.85,-16 L370.6,-13.99 L369.38,-11.97 L368.17,-9.95 L366.98,-7.91 L365.82,-5.86 L364.68,-3.81 L363.55,-1.74 L362.45,0.33 L361.37,2.41 L360.31,4.51 L359.28,6.61 L358.26,8.72 L357.27,10.83 L356.3,12.96 L355.35,15.09 L354.42,17.23 L353.51,19.38 L352.63,21.53 L351.76,23.69 L350.92,25.86 L350.11,28.04 L349.31,30.22 L348.54,32.41 L347.79,34.6 L347.06,36.81 L346.35,39.01 L345.67,41.22 L345.01,43.44 L344.37,45.67 L343.76,47.89 L343.16,50.13 L342.6,52.36 L342.05,54.61 L341.53,56.85 L341.03,59.1 L340.55,61.36 L340.1,63.62 L339.66,65.88 L339.26,68.15 L338.87,70.42 L338.51,72.69 L338.17,74.96 L337.86,77.24 L337.57,79.52 L337.3,81.8 L337.06,84.09 L336.83,86.37 L336.64,88.66 L336.46,90.95 L336.31,93.24 L336.18,95.53 L336.08,97.82 L336,100.12 L335.94,102.41 L335.91,104.71 L335.9,107" fill="none" stroke="#ff1a1a" stroke-width="0.7"/>
<rect x="442.18" y="-91.17" width="1.6" height="1.6" fill="#ff1a1a"/>
<rect x="407.75" y="-62.4" width="1.6" height="1.6" fill="#ff1a1a"/>
<rect x="383.23" y="-34.44" width="1.6" height="1.6" fill="#ff1a1a"/>
<rect x="366.45" y="-9.17" width="1.6" height="1.6" fill="#ff1a1a"/>
<rect x="355.3" y="12.6" width="1.6" height="1.6" fill="#ff1a1a"/>
<rect x="348.01" y="30.82" width="1.6" height="1.6" fill="#ff1a1a"/>
<rect x="343.32" y="45.78" width="1.6" height="1.6" fill="#ff1a1a"/>
<rect x="340.31" y="57.91" width="1.6" height="1.6" fill="#ff1a1a"/>
<rect x="338.4" y="67.67" width="1.6" height="1.6" fill="#ff1a1a"/>
<rect x="337.19" y="75.49" width="1.6" height="1.6" fill="#ff1a1a"/>
<rect x="336.42" y="81.74" width="1.6" height="1.6" fill="#ff1a1a"/>
<rect x="335.93" y="86.72" width="1.6" height="1.6" fill="#ff1a1a"/>
<rect x="335.63" y="90.68" width="1.6" height="1.6" fill="#ff1a1a"/>
<path d="M546.86,80.35 L546.08,78.2 L545.25,76.06 L544.36,73.94 L543.41,71.84 L542.41,69.77 L541.35,67.71 L540.24,65.68 L539.07,63.67 L537.86,61.68 L536.59,59.72 L535.27,57.79 L533.9,55.89 L532.47,54.01 L531,52.17 L529.49,50.36 L527.92,48.58 L526.31,46.83 L524.65,45.12 L522.95,43.44 L521.2,41.8 L519.41,40.19 L517.58,38.63 L515.71,37.1 L513.79,35.61 L511.84,34.17 L509.86,32.76 L507.83,31.4 L505.77,30.08 L503.68,28.8 L501.55,27.57 L499.39,26.38 L497.2,25.23 L494.98,24.14 L492.73,23.09 L490.45,22.09 L488.15,21.13 L485.83,20.23 L483.48,19.37 L481.11,18.56 L478.71,17.81 L476.3,17.1 L473.87,16.44 L471.43,15.84 L468.97,15.28 L466.49,14.78 L464.01,14.33 L461.51,13.93 L459,13.59 L456.48,13.3 L453.96,13.06 L451.43,12.87 L448.89,12.74 L446.36,12.66 L443.82,12.63 L441.28,12.65 L438.74,12.73 L436.21,12.87 L433.68,13.05 L431.16,13.29 L428.64,13.58 L426.13,13.92 L423.63,14.32 L421.14,14.77 L418.67,15.27 L416.21,15.82 L413.76,16.43 L411.33,17.08 L408.92,17.79 L406.53,18.54 L404.16,19.35 L401.81,20.2 L399.48,21.11 L397.18,22.06 L394.9,23.06 L392.65,24.11 L390.43,25.21 L388.24,26.35 L386.08,27.53 L383.95,28.77 L381.86,30.04 L379.79,31.36 L377.77,32.72 L375.78,34.13 L373.83,35.58 L371.91,37.06 L370.04,38.59 L368.21,40.15 L366.42,41.76 L364.67,43.4 L362.97,45.07 L361.31,46.79 L359.69,48.53 L358.13,50.31 L356.61,52.12 L355.13,53.96 L353.71,55.84 L352.34,57.74 L351.02,59.67 L349.75,61.63 L348.53,63.61 L347.36,65.62 L346.25,67.66 L345.19,69.71 L344.19,71.79 L343.24,73.89 L342.35,76 L341.51,78.14 L340.73,80.29 L340,82.46 L339.34,84.64 L338.73,86.84 L338.18,89.05 L337.69,91.27 L337.26,93.49 L336.88,95.73 L336.57,97.98 L336.31,100.23 L336.11,102.48 L335.98,104.74 L335.9,107" fill="none" stroke="#111" stroke-width="0.7"/>
<rect x="546.06" y="79.55" width="1.6" height="1.6" fill="#111"/>
<rect x="543.34" y="72.65" width="1.6" height="1.6" fill="#111"/>
<rect x="539.16" y="64.39" width="1.6" height="1.6" fill="#111"/>
<rect x="532.88" y="54.79" width="1.6" height="1.6" fill="#111"/>
<rect x="523.67" y="44.14" width="1.6" height="1.6" fill="#111"/>
<rect x="510.72" y="33.13" width="1.6" height="1.6" fill="#111"/>
<rect x="493.47" y="23" width="1.6" height="1.6" fill="#111"/>
<rect x="472.14" y="15.41" width="1.6" height="1.6" fill="#111"/>
<rect x="448.04" y="11.93" width="1.6" height="1.6" fill="#111"/>
<rect x="423.41" y="13.42" width="1.6" height="1.6" fill="#111"/>
<rect x="400.73" y="19.51" width="1.6" height="1.6" fill="#111"/>
<rect x="381.74" y="28.82" width="1.6" height="1.6" fill="#111"/>
<rect x="367.08" y="39.65" width="1.6" height="1.6" fill="#111"/>
<rect x="356.44" y="50.56" width="1.6" height="1.6" fill="#111"/>
<rect x="349.07" y="60.64" width="1.6" height="1.6" fill="#111"/>
<rect x="344.12" y="69.46" width="1.6" height="1.6" fill="#111"/>
<rect x="340.88" y="76.9" width="1.6" height="1.6" fill="#111"/>
<rect x="338.77" y="83.04" width="1.6" height="1.6" fill="#111"/>
<rect x="337.43" y="88.05" width="1.6" height="1.6" fill="#111"/>
<rect x="336.57" y="92.08" width="1.6" height="1.6" fill="#111"/>
<rect x="336.02" y="95.32" width="1.6" height="1.6" fill="#111"/>
<rect x="335.68" y="97.91" width="1.6" height="1.6" fill="#111"/>
<rect x="335.46" y="99.97" width="1.6" height="1.6" fill="#111"/>
<rect x="335.32" y="101.61" width="1.6" height="1.6" fill="#111"/>
<rect x="335.23" y="102.92" width="1.6" height="1.6" fill="#111"/>
<path d="M448.59,71.11 L447.75,70.25 L446.88,69.4 L445.99,68.57 L445.09,67.75 L444.17,66.95 L443.23,66.17 L442.27,65.4 L441.3,64.65 L440.3,63.92 L439.3,63.21 L438.27,62.51 L437.23,61.84 L436.18,61.18 L435.11,60.54 L434.03,59.92 L432.93,59.32 L431.82,58.74 L430.7,58.18 L429.56,57.64 L428.41,57.12 L427.26,56.62 L426.09,56.14 L424.91,55.68 L423.72,55.25 L422.52,54.83 L421.31,54.44 L420.09,54.07 L418.86,53.72 L417.63,53.39 L416.39,53.08 L415.14,52.8 L413.89,52.54 L412.63,52.3 L411.36,52.09 L410.1,51.89 L408.82,51.72 L407.55,51.58 L406.27,51.45 L404.98,51.35 L403.7,51.27 L402.41,51.22 L401.13,51.18 L399.84,51.17 L398.55,51.19 L397.27,51.22 L395.98,51.28 L394.7,51.37 L393.42,51.47 L392.14,51.6 L390.86,51.75 L389.59,51.92 L388.32,52.12 L387.06,52.34 L385.8,52.58 L384.55,52.85 L383.3,53.13 L382.06,53.44 L380.83,53.77 L379.61,54.13 L378.39,54.5 L377.18,54.9 L375.98,55.32 L374.79,55.76 L373.62,56.22 L372.45,56.7 L371.29,57.2 L370.15,57.73 L369.01,58.27 L367.89,58.83 L366.78,59.42 L365.69,60.02 L364.61,60.65 L363.54,61.29 L362.49,61.95 L361.45,62.63 L360.43,63.33 L359.43,64.04 L358.44,64.78 L357.47,65.53 L356.51,66.3 L355.57,67.08 L354.66,67.89 L353.75,68.71 L352.87,69.54 L352.01,70.39 L351.16,71.26 L350.34,72.14 L349.54,73.03 L348.75,73.94 L347.99,74.87 L347.25,75.8 L346.52,76.75 L345.83,77.72 L345.15,78.69 L344.49,79.68 L343.86,80.68 L343.25,81.69 L342.66,82.71 L342.1,83.74 L341.55,84.78 L341.04,85.83 L340.54,86.89 L340.07,87.96 L339.63,89.03 L339.21,90.12 L338.81,91.21 L338.44,92.3 L338.09,93.41 L337.77,94.52 L337.47,95.64 L337.2,96.76 L336.95,97.88 L336.73,99.01 L336.53,100.15 L336.36,101.28 L336.22,102.42 L336.1,103.56 L336.01,104.71 L335.94,105.85 L335.9,107" fill="none" stroke="#ff1a1a" stroke-width="0.7"/>
<circle cx="448.59" cy="71.11" r="0.9" fill="#ff1a1a"/>
<circle cx="441.18" cy="64.57" r="0.9" fill="#ff1a1a"/>
<circle cx="431.24" cy="58.45" r="0.9" fill="#ff1a1a"/>
<circle cx="418.83" cy="53.71" r="0.9" fill="#ff1a1a"/>
<circle cx="404.65" cy="51.33" r="0.9" fill="#ff1a1a"/>
<circle cx="389.99" cy="51.87" r="0.9" fill="#ff1a1a"/>
<circle cx="376.32" cy="55.2" r="0.9" fill="#ff1a1a"/>
<circle cx="364.76" cy="60.56" r="0.9" fill="#ff1a1a"/>
<circle cx="355.76" cy="66.93" r="0.9" fill="#ff1a1a"/>
<circle cx="349.18" cy="73.44" r="0.9" fill="#ff1a1a"/>
<circle cx="344.61" cy="79.5" r="0.9" fill="#ff1a1a"/>
<circle cx="341.53" cy="84.83" r="0.9" fill="#ff1a1a"/>
<circle cx="339.51" cy="89.34" r="0.9" fill="#ff1a1a"/>
<circle cx="338.19" cy="93.07" r="0.9" fill="#ff1a1a"/>
<circle cx="337.35" cy="96.12" r="0.9" fill="#ff1a1a"/>
<circle cx="336.81" cy="98.57" r="0.9" fill="#ff1a1a"/>
<circle cx="336.47" cy="100.55" r="0.9" fill="#ff1a1a"/>
<circle cx="336.25" cy="102.12" r="0.9" fill="#ff1a1a"/>
<circle cx="336.12" cy="103.38" r="0.9" fill="#ff1a1a"/>
<circle cx="336.03" cy="104.38" r="0.9" fill="#ff1a1a"/>
<circle cx="335.98" cy="105.18" r="0.9" fill="#ff1a1a"/>
<path d="M392.65,98.11 L392.39,97.56 L392.11,97.02 L391.83,96.49 L391.52,95.96 L391.21,95.43 L390.88,94.92 L390.54,94.4 L390.19,93.9 L389.82,93.41 L389.45,92.92 L389.06,92.44 L388.65,91.96 L388.24,91.5 L387.81,91.04 L387.37,90.59 L386.93,90.16 L386.47,89.73 L385.99,89.31 L385.51,88.9 L385.02,88.49 L384.52,88.1 L384.01,87.72 L383.49,87.35 L382.96,86.99 L382.42,86.64 L381.87,86.31 L381.31,85.98 L380.75,85.66 L380.18,85.36 L379.6,85.07 L379.01,84.79 L378.42,84.52 L377.82,84.26 L377.21,84.02 L376.6,83.78 L375.98,83.56 L375.35,83.36 L374.72,83.16 L374.09,82.98 L373.45,82.81 L372.81,82.65 L372.16,82.51 L371.51,82.38 L370.86,82.26 L370.2,82.16 L369.54,82.07 L368.88,81.99 L368.22,81.93 L367.56,81.88 L366.89,81.84 L366.23,81.81 L365.56,81.8 L364.89,81.81 L364.23,81.82 L363.56,81.85 L362.9,81.9 L362.24,81.95 L361.57,82.02 L360.91,82.1 L360.26,82.2 L359.6,82.31 L358.95,82.43 L358.3,82.57 L357.66,82.72 L357.02,82.88 L356.38,83.05 L355.75,83.24 L355.12,83.44 L354.5,83.65 L353.88,83.88 L353.27,84.11 L352.67,84.36 L352.07,84.63 L351.48,84.9 L350.89,85.19 L350.31,85.48 L349.75,85.79 L349.18,86.11 L348.63,86.44 L348.09,86.78 L347.55,87.14 L347.03,87.5 L346.51,87.88 L346,88.26 L345.5,88.66 L345.02,89.06 L344.54,89.48 L344.07,89.9 L343.62,90.33 L343.17,90.77 L342.74,91.23 L342.32,91.69 L341.91,92.15 L341.51,92.63 L341.12,93.11 L340.75,93.61 L340.39,94.1 L340.04,94.61 L339.71,95.12 L339.39,95.64 L339.08,96.17 L338.78,96.7 L338.5,97.24 L338.23,97.78 L337.98,98.33 L337.74,98.89 L337.51,99.45 L337.3,100.01 L337.1,100.57 L336.92,101.15 L336.75,101.72 L336.6,102.3 L336.46,102.88 L336.33,103.46 L336.22,104.05 L336.13,104.63 L336.05,105.22 L335.98,105.82 L335.93,106.41 L335.9,107" fill="none" stroke="#111" stroke-width="0.7"/>
<circle cx="392.65" cy="98.11" r="0.9" fill="#111"/>
<circle cx="391.43" cy="95.8" r="0.9" fill="#111"/>
<circle cx="389.61" cy="93.12" r="0.9" fill="#111"/>
<circle cx="386.95" cy="90.18" r="0.9" fill="#111"/>
<circle cx="383.24" cy="87.18" r="0.9" fill="#111"/>
<circle cx="378.35" cy="84.49" r="0.9" fill="#111"/>
<circle cx="372.38" cy="82.56" r="0.9" fill="#111"/>
<circle cx="365.72" cy="81.81" r="0.9" fill="#111"/>
<circle cx="359.03" cy="82.42" r="0.9" fill="#111"/>
<circle cx="352.96" cy="84.24" r="0.9" fill="#111"/>
<circle cx="347.95" cy="86.88" r="0.9" fill="#111"/>
<circle cx="344.11" cy="89.86" r="0.9" fill="#111"/>
<circle cx="341.36" cy="92.82" r="0.9" fill="#111"/>
<circle cx="339.46" cy="95.53" r="0.9" fill="#111"/>
<circle cx="338.19" cy="97.88" r="0.9" fill="#111"/>
<circle cx="337.35" cy="99.86" r="0.9" fill="#111"/>
<circle cx="336.82" cy="101.49" r="0.9" fill="#111"/>
<circle cx="336.47" cy="102.81" r="0.9" fill="#111"/>
<circle cx="336.25" cy="103.88" r="0.9" fill="#111"/>
<circle cx="336.11" cy="104.74" r="0.9" fill="#111"/>
<circle cx="336.03" cy="105.42" r="0.9" fill="#111"/>
<circle cx="335.97" cy="105.97" r="0.9" fill="#111"/>
<circle cx="335.93" cy="106.4" r="0.9" fill="#111"/>
<circle cx="335.91" cy="106.75" r="0.9" fill="#111"/>
<path d="M379.88,101.01 L379.69,100.58 L379.5,100.16 L379.29,99.73 L379.07,99.32 L378.85,98.9 L378.61,98.49 L378.36,98.09 L378.1,97.69 L377.83,97.29 L377.55,96.91 L377.26,96.52 L376.96,96.15 L376.65,95.78 L376.33,95.41 L376,95.06 L375.67,94.71 L375.32,94.36 L374.97,94.03 L374.6,93.7 L374.23,93.37 L373.85,93.06 L373.47,92.75 L373.07,92.46 L372.67,92.17 L372.26,91.88 L371.84,91.61 L371.42,91.34 L370.99,91.09 L370.55,90.84 L370.11,90.6 L369.66,90.37 L369.21,90.15 L368.75,89.94 L368.28,89.74 L367.81,89.55 L367.33,89.36 L366.85,89.19 L366.37,89.03 L365.88,88.87 L365.39,88.73 L364.89,88.6 L364.39,88.47 L363.89,88.36 L363.39,88.26 L362.88,88.17 L362.37,88.08 L361.86,88.01 L361.35,87.95 L360.83,87.9 L360.32,87.86 L359.8,87.83 L359.28,87.81 L358.76,87.8 L358.25,87.8 L357.73,87.81 L357.21,87.84 L356.7,87.87 L356.18,87.91 L355.67,87.97 L355.15,88.03 L354.64,88.11 L354.13,88.19 L353.63,88.29 L353.12,88.39 L352.62,88.51 L352.12,88.64 L351.63,88.77 L351.14,88.92 L350.65,89.07 L350.17,89.24 L349.69,89.42 L349.22,89.6 L348.75,89.8 L348.28,90 L347.82,90.22 L347.37,90.44 L346.92,90.67 L346.48,90.91 L346.05,91.16 L345.62,91.42 L345.2,91.69 L344.78,91.97 L344.37,92.25 L343.97,92.54 L343.58,92.84 L343.2,93.15 L342.82,93.47 L342.45,93.79 L342.09,94.12 L341.74,94.46 L341.4,94.81 L341.06,95.16 L340.74,95.52 L340.42,95.89 L340.12,96.26 L339.82,96.64 L339.53,97.02 L339.26,97.41 L338.99,97.81 L338.73,98.21 L338.49,98.61 L338.25,99.02 L338.03,99.44 L337.81,99.86 L337.61,100.28 L337.41,100.71 L337.23,101.14 L337.06,101.58 L336.9,102.02 L336.75,102.46 L336.62,102.9 L336.49,103.35 L336.38,103.8 L336.27,104.25 L336.18,104.71 L336.1,105.16 L336.04,105.62 L335.98,106.08 L335.94,106.54 L335.9,107" fill="none" stroke="#1c1cff" stroke-width="0.7"/>
<rect x="379.08" y="100.21" width="1.6" height="1.6" fill="#1c1cff"/>
<rect x="378.29" y="98.55" width="1.6" height="1.6" fill="#1c1cff"/>
<rect x="377.11" y="96.61" width="1.6" height="1.6" fill="#1c1cff"/>
<rect x="375.35" y="94.41" width="1.6" height="1.6" fill="#1c1cff"/>
<rect x="372.85" y="92.1" width="1.6" height="1.6" fill="#1c1cff"/>
<rect x="369.47" y="89.88" width="1.6" height="1.6" fill="#1c1cff"/>
<rect x="365.19" y="88.11" width="1.6" height="1.6" fill="#1c1cff"/>
<rect x="360.23" y="87.12" width="1.6" height="1.6" fill="#1c1cff"/>
<rect x="355.03" y="87.15" width="1.6" height="1.6" fill="#1c1cff"/>
<rect x="350.1" y="88.19" width="1.6" height="1.6" fill="#1c1cff"/>
<rect x="345.87" y="90.01" width="1.6" height="1.6" fill="#1c1cff"/>
<rect x="342.54" y="92.23" width="1.6" height="1.6" fill="#1c1cff"/>
<rect x="340.09" y="94.55" width="1.6" height="1.6" fill="#1c1cff"/>
<rect x="338.38" y="96.73" width="1.6" height="1.6" fill="#1c1cff"/>
<rect x="337.21" y="98.66" width="1.6" height="1.6" fill="#1c1cff"/>
<rect x="336.45" y="100.3" width="1.6" height="1.6" fill="#1c1cff"/>
<rect x="335.95" y="101.67" width="1.6" height="1.6" fill="#1c1cff"/>
<rect x="335.63" y="102.78" width="1.6" height="1.6" fill="#1c1cff"/>
<rect x="335.43" y="103.68" width="1.6" height="1.6" fill="#1c1cff"/>
<rect x="335.3" y="104.4" width="1.6" height="1.6" fill="#1c1cff"/>
<rect x="335.22" y="104.98" width="1.6" height="1.6" fill="#1c1cff"/>
<rect x="335.16" y="105.44" width="1.6" height="1.6" fill="#1c1cff"/>
<rect x="335.13" y="105.81" width="1.6" height="1.6" fill="#1c1cff"/>
<rect x="335.11" y="106.1" width="1.6" height="1.6" fill="#1c1cff"/>
<path d="M369.51,103.8 L369.39,103.45 L369.27,103.11 L369.14,102.78 L369,102.44 L368.85,102.11 L368.69,101.79 L368.52,101.46 L368.35,101.14 L368.16,100.82 L367.97,100.51 L367.77,100.2 L367.57,99.9 L367.35,99.6 L367.13,99.3 L366.9,99.01 L366.66,98.72 L366.41,98.44 L366.16,98.17 L365.9,97.9 L365.63,97.63 L365.36,97.37 L365.07,97.12 L364.79,96.87 L364.49,96.63 L364.19,96.39 L363.89,96.16 L363.57,95.94 L363.26,95.72 L362.93,95.52 L362.6,95.31 L362.27,95.12 L361.93,94.93 L361.58,94.75 L361.24,94.57 L360.88,94.4 L360.52,94.24 L360.16,94.09 L359.8,93.95 L359.43,93.81 L359.06,93.68 L358.68,93.56 L358.3,93.44 L357.92,93.34 L357.53,93.24 L357.15,93.15 L356.76,93.07 L356.37,93 L355.97,92.93 L355.58,92.87 L355.18,92.82 L354.78,92.78 L354.39,92.75 L353.99,92.73 L353.59,92.71 L353.19,92.7 L352.79,92.7 L352.39,92.71 L351.99,92.73 L351.59,92.75 L351.19,92.79 L350.79,92.83 L350.4,92.88 L350,92.94 L349.61,93.01 L349.22,93.08 L348.83,93.16 L348.44,93.25 L348.06,93.35 L347.68,93.46 L347.3,93.58 L346.92,93.7 L346.55,93.83 L346.18,93.97 L345.81,94.11 L345.45,94.27 L345.1,94.43 L344.74,94.6 L344.4,94.77 L344.05,94.95 L343.71,95.14 L343.38,95.34 L343.05,95.54 L342.73,95.75 L342.41,95.97 L342.1,96.2 L341.79,96.43 L341.49,96.66 L341.2,96.9 L340.91,97.15 L340.63,97.41 L340.36,97.67 L340.09,97.93 L339.83,98.2 L339.58,98.48 L339.34,98.76 L339.1,99.05 L338.87,99.34 L338.65,99.64 L338.43,99.94 L338.23,100.24 L338.03,100.55 L337.84,100.87 L337.66,101.19 L337.48,101.51 L337.32,101.83 L337.16,102.16 L337.01,102.49 L336.87,102.82 L336.74,103.16 L336.62,103.5 L336.51,103.84 L336.4,104.19 L336.31,104.53 L336.22,104.88 L336.15,105.23 L336.08,105.58 L336.02,105.94 L335.97,106.29 L335.93,106.64 L335.9,107" fill="none" stroke="#1d8a1d" stroke-width="0.7"/>
<rect x="368.71" y="103" width="1.6" height="1.6" fill="#1d8a1d"/>
<rect x="368.33" y="101.97" width="1.6" height="1.6" fill="#1d8a1d"/>
<rect x="367.76" y="100.73" width="1.6" height="1.6" fill="#1d8a1d"/>
<rect x="366.89" y="99.28" width="1.6" height="1.6" fill="#1d8a1d"/>
<rect x="365.6" y="97.64" width="1.6" height="1.6" fill="#1d8a1d"/>
<rect x="363.77" y="95.89" width="1.6" height="1.6" fill="#1d8a1d"/>
<rect x="361.26" y="94.2" width="1.6" height="1.6" fill="#1d8a1d"/>
<rect x="358.09" y="92.82" width="1.6" height="1.6" fill="#1d8a1d"/>
<rect x="354.37" y="92.02" width="1.6" height="1.6" fill="#1d8a1d"/>
<rect x="350.44" y="91.98" width="1.6" height="1.6" fill="#1d8a1d"/>
<rect x="346.69" y="92.72" width="1.6" height="1.6" fill="#1d8a1d"/>
<rect x="343.45" y="94.05" width="1.6" height="1.6" fill="#1d8a1d"/>
<rect x="340.88" y="95.71" width="1.6" height="1.6" fill="#1d8a1d"/>
<rect x="338.98" y="97.47" width="1.6" height="1.6" fill="#1d8a1d"/>
<rect x="337.64" y="99.12" width="1.6" height="1.6" fill="#1d8a1d"/>
<rect x="336.74" y="100.6" width="1.6" height="1.6" fill="#1d8a1d"/>
<rect x="336.14" y="101.86" width="1.6" height="1.6" fill="#1d8a1d"/>
<rect x="335.75" y="102.9" width="1.6" height="1.6" fill="#1d8a1d"/>
<rect x="335.5" y="103.76" width="1.6" height="1.6" fill="#1d8a1d"/>
<rect x="335.34" y="104.45" width="1.6" height="1.6" fill="#1d8a1d"/>
<rect x="335.24" y="105" width="1.6" height="1.6" fill="#1d8a1d"/>
<rect x="335.18" y="105.45" width="1.6" height="1.6" fill="#1d8a1d"/>
<rect x="335.14" y="105.8" width="1.6" height="1.6" fill="#1d8a1d"/>
<rect x="335.11" y="106.09" width="1.6" height="1.6" fill="#1d8a1d"/>
<rect x="335.1" y="106.2" width="1.6" height="1.6" fill="#1d8a1d"/>
<path d="M361.2,105.2 L361.13,104.94 L361.06,104.67 L360.98,104.4 L360.89,104.14 L360.8,103.88 L360.7,103.62 L360.59,103.36 L360.47,103.11 L360.35,102.85 L360.22,102.6 L360.09,102.36 L359.94,102.11 L359.79,101.87 L359.64,101.63 L359.48,101.4 L359.31,101.17 L359.13,100.94 L358.95,100.72 L358.77,100.5 L358.58,100.29 L358.38,100.08 L358.17,99.87 L357.96,99.67 L357.75,99.47 L357.53,99.28 L357.31,99.09 L357.07,98.91 L356.84,98.73 L356.6,98.55 L356.36,98.39 L356.11,98.22 L355.85,98.07 L355.6,97.92 L355.34,97.77 L355.07,97.63 L354.8,97.5 L354.53,97.37 L354.25,97.24 L353.97,97.13 L353.69,97.02 L353.41,96.91 L353.12,96.81 L352.83,96.72 L352.53,96.63 L352.24,96.55 L351.94,96.48 L351.64,96.41 L351.34,96.35 L351.04,96.3 L350.74,96.25 L350.43,96.21 L350.12,96.18 L349.82,96.15 L349.51,96.13 L349.2,96.11 L348.89,96.1 L348.58,96.1 L348.28,96.11 L347.97,96.12 L347.66,96.14 L347.35,96.16 L347.05,96.2 L346.74,96.23 L346.44,96.28 L346.13,96.33 L345.83,96.39 L345.53,96.45 L345.23,96.52 L344.94,96.6 L344.64,96.68 L344.35,96.77 L344.06,96.87 L343.78,96.97 L343.49,97.08 L343.21,97.19 L342.94,97.32 L342.66,97.44 L342.39,97.57 L342.12,97.71 L341.86,97.86 L341.6,98 L341.35,98.16 L341.1,98.32 L340.85,98.49 L340.61,98.66 L340.37,98.83 L340.14,99.01 L339.91,99.2 L339.69,99.39 L339.47,99.59 L339.26,99.79 L339.06,99.99 L338.86,100.2 L338.66,100.41 L338.47,100.63 L338.29,100.85 L338.11,101.08 L337.94,101.31 L337.78,101.54 L337.62,101.77 L337.47,102.01 L337.32,102.26 L337.18,102.5 L337.05,102.75 L336.93,103 L336.81,103.26 L336.7,103.51 L336.59,103.77 L336.5,104.03 L336.41,104.29 L336.32,104.56 L336.25,104.83 L336.18,105.09 L336.12,105.36 L336.06,105.63 L336.02,105.91 L335.98,106.18 L335.95,106.45 L335.92,106.73 L335.9,107" fill="none" stroke="#1c1cff" stroke-width="0.7"/>
<circle cx="361.2" cy="105.2" r="0.9" fill="#1c1cff"/>
<circle cx="361.05" cy="104.63" r="0.9" fill="#1c1cff"/>
<circle cx="360.81" cy="103.92" r="0.9" fill="#1c1cff"/>
<circle cx="360.45" cy="103.06" r="0.9" fill="#1c1cff"/>
<circle cx="359.9" cy="102.04" r="0.9" fill="#1c1cff"/>
<circle cx="359.07" cy="100.86" r="0.9" fill="#1c1cff"/>
<circle cx="357.87" cy="99.58" r="0.9" fill="#1c1cff"/>
<circle cx="356.2" cy="98.28" r="0.9" fill="#1c1cff"/>
<circle cx="354.02" cy="97.14" r="0.9" fill="#1c1cff"/>
<circle cx="351.38" cy="96.36" r="0.9" fill="#1c1cff"/>
<circle cx="348.48" cy="96.1" r="0.9" fill="#1c1cff"/>
<circle cx="345.59" cy="96.44" r="0.9" fill="#1c1cff"/>
<circle cx="343.01" cy="97.28" r="0.9" fill="#1c1cff"/>
<circle cx="340.9" cy="98.45" r="0.9" fill="#1c1cff"/>
<circle cx="339.3" cy="99.75" r="0.9" fill="#1c1cff"/>
<circle cx="338.15" cy="101.03" r="0.9" fill="#1c1cff"/>
<circle cx="337.36" cy="102.18" r="0.9" fill="#1c1cff"/>
<circle cx="336.84" cy="103.19" r="0.9" fill="#1c1cff"/>
<circle cx="336.5" cy="104.02" r="0.9" fill="#1c1cff"/>
<circle cx="336.28" cy="104.71" r="0.9" fill="#1c1cff"/>
<circle cx="336.14" cy="105.27" r="0.9" fill="#1c1cff"/>
<circle cx="336.05" cy="105.72" r="0.9" fill="#1c1cff"/>
<circle cx="335.99" cy="106.08" r="0.9" fill="#1c1cff"/>
<circle cx="335.95" cy="106.37" r="0.9" fill="#1c1cff"/>
<circle cx="335.93" cy="106.6" r="0.9" fill="#1c1cff"/>
<circle cx="335.92" cy="106.79" r="0.9" fill="#1c1cff"/>
<path d="M354.32,106.3 L354.29,106.09 L354.26,105.89 L354.22,105.68 L354.18,105.48 L354.13,105.28 L354.07,105.07 L354.01,104.87 L353.94,104.68 L353.87,104.48 L353.79,104.28 L353.71,104.09 L353.62,103.9 L353.53,103.71 L353.43,103.52 L353.32,103.34 L353.21,103.15 L353.1,102.97 L352.98,102.8 L352.85,102.62 L352.72,102.45 L352.59,102.28 L352.45,102.11 L352.3,101.95 L352.16,101.79 L352,101.64 L351.85,101.48 L351.68,101.33 L351.52,101.19 L351.35,101.05 L351.17,100.91 L351,100.78 L350.81,100.65 L350.63,100.52 L350.44,100.4 L350.25,100.28 L350.05,100.17 L349.85,100.06 L349.65,99.96 L349.45,99.86 L349.24,99.76 L349.03,99.67 L348.82,99.59 L348.61,99.51 L348.39,99.43 L348.17,99.36 L347.95,99.3 L347.73,99.23 L347.5,99.18 L347.28,99.13 L347.05,99.08 L346.82,99.04 L346.59,99.01 L346.36,98.98 L346.13,98.95 L345.9,98.93 L345.67,98.92 L345.44,98.91 L345.2,98.9 L344.97,98.9 L344.74,98.91 L344.5,98.92 L344.27,98.94 L344.04,98.96 L343.81,98.99 L343.58,99.02 L343.35,99.06 L343.12,99.1 L342.9,99.15 L342.67,99.2 L342.45,99.26 L342.23,99.32 L342.01,99.39 L341.79,99.46 L341.57,99.54 L341.36,99.62 L341.15,99.71 L340.94,99.8 L340.73,99.9 L340.53,100 L340.33,100.1 L340.13,100.21 L339.94,100.33 L339.75,100.45 L339.56,100.57 L339.38,100.7 L339.2,100.83 L339.02,100.96 L338.85,101.1 L338.68,101.24 L338.52,101.39 L338.36,101.54 L338.2,101.7 L338.05,101.85 L337.9,102.01 L337.76,102.18 L337.62,102.35 L337.49,102.52 L337.36,102.69 L337.24,102.86 L337.12,103.04 L337.01,103.22 L336.9,103.41 L336.8,103.59 L336.7,103.78 L336.61,103.97 L336.52,104.17 L336.44,104.36 L336.36,104.56 L336.29,104.75 L336.23,104.95 L336.17,105.15 L336.12,105.36 L336.07,105.56 L336.03,105.76 L335.99,105.97 L335.96,106.17 L335.94,106.38 L335.92,106.59 L335.91,106.79 L335.9,107" fill="none" stroke="#1d8a1d" stroke-width="0.7"/>
<circle cx="354.32" cy="106.3" r="0.9" fill="#1d8a1d"/>
<circle cx="354.29" cy="106.08" r="0.9" fill="#1d8a1d"/>
<circle cx="354.25" cy="105.82" r="0.9" fill="#1d8a1d"/>
<circle cx="354.18" cy="105.48" r="0.9" fill="#1d8a1d"/>
<circle cx="354.07" cy="105.07" r="0.9" fill="#1d8a1d"/>
<circle cx="353.9" cy="104.56" r="0.9" fill="#1d8a1d"/>
<circle cx="353.64" cy="103.94" r="0.9" fill="#1d8a1d"/>
<circle cx="353.25" cy="103.21" r="0.9" fill="#1d8a1d"/>
<circle cx="352.65" cy="102.36" r="0.9" fill="#1d8a1d"/>
<circle cx="351.79" cy="101.43" r="0.9" fill="#1d8a1d"/>
<circle cx="350.59" cy="100.5" r="0.9" fill="#1d8a1d"/>
<circle cx="349.03" cy="99.67" r="0.9" fill="#1d8a1d"/>
<circle cx="347.13" cy="99.1" r="0.9" fill="#1d8a1d"/>
<circle cx="345.03" cy="98.9" r="0.9" fill="#1d8a1d"/>
<circle cx="342.95" cy="99.14" r="0.9" fill="#1d8a1d"/>
<circle cx="341.08" cy="99.74" r="0.9" fill="#1d8a1d"/>
<circle cx="339.54" cy="100.58" r="0.9" fill="#1d8a1d"/>
<circle cx="338.38" cy="101.52" r="0.9" fill="#1d8a1d"/>
<circle cx="337.55" cy="102.44" r="0.9" fill="#1d8a1d"/>
<circle cx="336.97" cy="103.28" r="0.9" fill="#1d8a1d"/>
<circle cx="336.59" cy="104" r="0.9" fill="#1d8a1d"/>
<circle cx="336.34" cy="104.61" r="0.9" fill="#1d8a1d"/>
<circle cx="336.18" cy="105.11" r="0.9" fill="#1d8a1d"/>
<circle cx="336.08" cy="105.52" r="0.9" fill="#1d8a1d"/>
<circle cx="336.01" cy="105.84" r="0.9" fill="#1d8a1d"/>
<circle cx="335.97" cy="106.11" r="0.9" fill="#1d8a1d"/>
<circle cx="335.95" cy="106.32" r="0.9" fill="#1d8a1d"/>
<circle cx="335.93" cy="106.48" r="0.9" fill="#1d8a1d"/>
<circle cx="335.92" cy="106.62" r="0.9" fill="#1d8a1d"/>
</g>
<text x="330" y="108.2" text-anchor="end" font-size="3.6" class="b" fill="#333" textLength="1.45" lengthAdjust="spacingAndGlyphs">0</text>
<text x="335.9" y="115.7" text-anchor="middle" font-size="3.6" class="b" fill="#333" textLength="1.45" lengthAdjust="spacingAndGlyphs">0</text>
<text x="330" y="92.98" text-anchor="end" font-size="3.6" class="b" fill="#333" textLength="5.8" lengthAdjust="spacingAndGlyphs">2000</text>
<text x="352.98" y="115.7" text-anchor="middle" font-size="3.6" class="b" fill="#333" textLength="5.8" lengthAdjust="spacingAndGlyphs">2000</text>
<text x="330" y="77.76" text-anchor="end" font-size="3.6" class="b" fill="#333" textLength="5.8" lengthAdjust="spacingAndGlyphs">4000</text>
<text x="370.06" y="115.7" text-anchor="middle" font-size="3.6" class="b" fill="#333" textLength="5.8" lengthAdjust="spacingAndGlyphs">4000</text>
<text x="330" y="62.54" text-anchor="end" font-size="3.6" class="b" fill="#333" textLength="5.8" lengthAdjust="spacingAndGlyphs">6000</text>
<text x="387.14" y="115.7" text-anchor="middle" font-size="3.6" class="b" fill="#333" textLength="5.8" lengthAdjust="spacingAndGlyphs">6000</text>
<text x="330" y="47.32" text-anchor="end" font-size="3.6" class="b" fill="#333" textLength="5.8" lengthAdjust="spacingAndGlyphs">8000</text>
<text x="404.22" y="115.7" text-anchor="middle" font-size="3.6" class="b" fill="#333" textLength="5.8" lengthAdjust="spacingAndGlyphs">8000</text>
<text x="365.6" y="120.2" font-size="4.2" class="b" fill="#333" textLength="11" lengthAdjust="spacingAndGlyphs">Z<tspan dy="0.9" font-size="3.2">Real</tspan><tspan dy="-0.9" font-size="3.6"> (Ω)</tspan></text>
<text transform="translate(322,87.7) rotate(-90)" font-size="4.2" class="b" fill="#333" textLength="17" lengthAdjust="spacingAndGlyphs">-Z<tspan dy="0.9" font-size="3.2">Img</tspan><tspan dy="-0.9" font-size="3.6"> (Ω)</tspan></text>
<line x1="410.3" y1="68.5" x2="430.2" y2="68.5" stroke="#ff1a1a" stroke-width="1.3"/>
<rect x="418.7" y="66.7" width="3.6" height="3.6" fill="#ff1a1a"/>
<text x="433.2" y="71.6" font-size="9.6" class="b" textLength="72.4" lengthAdjust="spacingAndGlyphs">Pure TiO<tspan dy="3" font-size="7.4">2</tspan><tspan dy="-3"> in dark</tspan></text>
<line x1="410.3" y1="84.7" x2="430.2" y2="84.7" stroke="#ff1a1a" stroke-width="1.3"/>
<circle cx="420.5" cy="84.7" r="1.9" fill="#ff1a1a"/>
<text x="433.2" y="87.8" font-size="9.6" class="b" textLength="73.1" lengthAdjust="spacingAndGlyphs">Pure TiO<tspan dy="3" font-size="7.4">2</tspan><tspan dy="-3"> in light</tspan></text>
<line x1="410.3" y1="101.2" x2="430.2" y2="101.2" stroke="#111" stroke-width="1.3"/>
<rect x="418.7" y="99.4" width="3.6" height="3.6" fill="#111"/>
<text x="433.2" y="104.3" font-size="9.6" class="b" textLength="68.8" lengthAdjust="spacingAndGlyphs">Pure CdS in dark</text>
<line x1="410.3" y1="114.5" x2="430.2" y2="114.5" stroke="#111" stroke-width="1.3"/>
<circle cx="420.5" cy="114.5" r="1.9" fill="#111"/>
<text x="433.2" y="117.6" font-size="9.6" class="b" textLength="70.1" lengthAdjust="spacingAndGlyphs">Pure CdS in light</text>
<line x1="410.3" y1="128.3" x2="430.2" y2="128.3" stroke="#1c1cff" stroke-width="1.3"/>
<rect x="418.7" y="126.5" width="3.6" height="3.6" fill="#1c1cff"/>
<text x="433.2" y="131.4" font-size="9.6" class="b" textLength="75" lengthAdjust="spacingAndGlyphs">CdS<tspan font-size="9" fill="#888">@</tspan>TiO<tspan dy="3" font-size="7.4">2</tspan><tspan dy="-3"> in dark</tspan></text>
<line x1="410.3" y1="144.5" x2="430.2" y2="144.5" stroke="#1c1cff" stroke-width="1.3"/>
<circle cx="420.5" cy="144.5" r="1.9" fill="#1c1cff"/>
<text x="433.2" y="147.6" font-size="9.6" class="b" textLength="75.6" lengthAdjust="spacingAndGlyphs">CdS<tspan font-size="9" fill="#888">@</tspan>TiO<tspan dy="3" font-size="7.4">2</tspan><tspan dy="-3"> in light</tspan></text>
<line x1="410.3" y1="160.6" x2="430.2" y2="160.6" stroke="#1d8a1d" stroke-width="1.3"/>
<rect x="418.7" y="158.8" width="3.6" height="3.6" fill="#1d8a1d"/>
<text x="433.2" y="163.7" font-size="9.6" class="b" textLength="97" lengthAdjust="spacingAndGlyphs">CdS<tspan font-size="9" fill="#888">@</tspan>50G<tspan font-size="9" fill="#888">@</tspan>TiO<tspan dy="3" font-size="7.4">2</tspan><tspan dy="-3"> in dark</tspan></text>
<line x1="410.3" y1="176.8" x2="430.2" y2="176.8" stroke="#1d8a1d" stroke-width="1.3"/>
<circle cx="420.5" cy="176.8" r="1.9" fill="#1d8a1d"/>
<text x="433.2" y="179.9" font-size="9.6" class="b" textLength="97.8" lengthAdjust="spacingAndGlyphs">CdS<tspan font-size="9" fill="#888">@</tspan>50G<tspan font-size="9" fill="#888">@</tspan>TiO<tspan dy="3" font-size="7.4">2</tspan><tspan dy="-3"> in light</tspan></text>
<g fill="none" stroke="#111" stroke-width="1.25" stroke-linejoin="miter">
<path d="M417.5,205.4 L430,205.4 L432.4,207.3 L435.2,204.2 L437.8,207.3 L440.5,204.2 L443.1,207.3 L445.7,204.2 L448.6,207.1 L464.6,207.1"/>
<path d="M464.6,198.5 L464.6,213.6 L481.7,213.6 L483.6,210.9 L486.3,213.4 L488.9,210.4 L491.5,213.1 L493.9,210.4 L496.1,213.1 L498.1,213.6 L512.5,213.6 L512.5,198.5 L493.5,198.5"/>
<path d="M464.6,198.5 L483.6,198.5"/>
<line x1="483.6" y1="191.9" x2="483.6" y2="204.4" stroke-width="1.3"/>
<line x1="493.5" y1="191.9" x2="493.5" y2="204.4" stroke-width="1.3"/>
<line x1="512.5" y1="206.7" x2="522.8" y2="206.7"/>
</g>
</svg></body></html>
